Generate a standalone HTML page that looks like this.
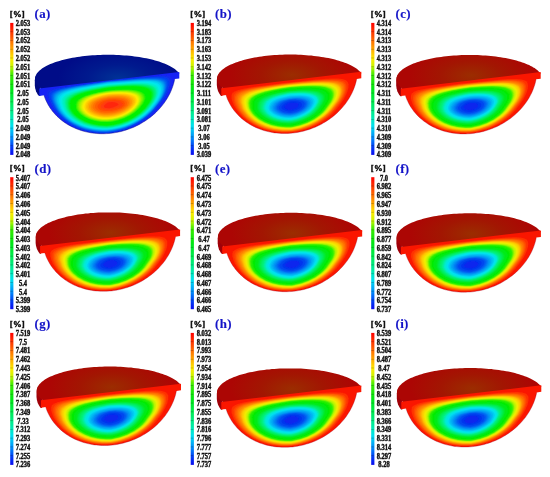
<!DOCTYPE html><html><head><meta charset="utf-8"><style>
html,body{margin:0;padding:0;background:#fff;}
body{width:550px;height:477px;overflow:hidden;position:relative;}
.p{position:absolute;left:0;top:0;width:180px;height:155px;}
.t{position:absolute;font-family:"Liberation Serif",serif;font-weight:bold;color:#111;white-space:nowrap;}
.pc{font-size:8.7px;letter-spacing:0.2px;transform-origin:0 0;-webkit-text-stroke:0.45px #111;}
.lt{font-size:12.9px;color:#1414c8;-webkit-text-stroke:0.15px #1414c8;letter-spacing:0.3px;}
.lb{font-size:7.2px;-webkit-text-stroke:0.4px #111;transform:scaleX(0.9);transform-origin:50% 50%;width:20px;text-align:center;line-height:9px;height:9px;}
svg{position:absolute;left:0;top:0;}
</style></head><body>
<svg width="550" height="477" viewBox="0 0 550 477"><defs>
<linearGradient id="cb" x1="0" y1="0" x2="0" y2="1"><stop offset="0.000" stop-color="#ff0000"/><stop offset="0.025" stop-color="#ff1300"/><stop offset="0.050" stop-color="#ff2700"/><stop offset="0.075" stop-color="#ff3a00"/><stop offset="0.100" stop-color="#ff4f00"/><stop offset="0.125" stop-color="#ff6500"/><stop offset="0.150" stop-color="#ff7b00"/><stop offset="0.175" stop-color="#ff9200"/><stop offset="0.200" stop-color="#ffa900"/><stop offset="0.225" stop-color="#ffc000"/><stop offset="0.250" stop-color="#ffd800"/><stop offset="0.275" stop-color="#faec00"/><stop offset="0.300" stop-color="#e4f000"/><stop offset="0.325" stop-color="#cdf400"/><stop offset="0.350" stop-color="#99f200"/><stop offset="0.375" stop-color="#5fee00"/><stop offset="0.400" stop-color="#37eb02"/><stop offset="0.425" stop-color="#29e906"/><stop offset="0.450" stop-color="#1be80b"/><stop offset="0.475" stop-color="#0ee70f"/><stop offset="0.500" stop-color="#00e614"/><stop offset="0.525" stop-color="#00e723"/><stop offset="0.550" stop-color="#00e832"/><stop offset="0.575" stop-color="#00ea41"/><stop offset="0.600" stop-color="#00eb50"/><stop offset="0.625" stop-color="#00eb64"/><stop offset="0.650" stop-color="#00eb78"/><stop offset="0.675" stop-color="#00eb8c"/><stop offset="0.700" stop-color="#00eba0"/><stop offset="0.725" stop-color="#00e8b9"/><stop offset="0.750" stop-color="#00e5d2"/><stop offset="0.775" stop-color="#00e2eb"/><stop offset="0.800" stop-color="#00cef2"/><stop offset="0.825" stop-color="#00b7f5"/><stop offset="0.850" stop-color="#009ff8"/><stop offset="0.875" stop-color="#0086fa"/><stop offset="0.900" stop-color="#006af8"/><stop offset="0.925" stop-color="#004df6"/><stop offset="0.950" stop-color="#0234f4"/><stop offset="0.975" stop-color="#061ff2"/><stop offset="1.000" stop-color="#0a0af0"/></linearGradient>
<filter id="blur" x="-5%" y="-5%" width="110%" height="110%"><feGaussianBlur stdDeviation="0.7"/></filter>
<radialGradient id="lid_red" gradientUnits="userSpaceOnUse" cx="112.0" cy="75.0" r="62" gradientTransform="translate(112.0 75.0) scale(1 0.45) translate(-112.0 -75.0)"><stop offset="0" stop-color="#9b2d00"/><stop offset="0.5" stop-color="#a21602"/><stop offset="1" stop-color="#ac0604"/></radialGradient>
<radialGradient id="lid_blue" gradientUnits="userSpaceOnUse" cx="120.0" cy="78.0" r="60" gradientTransform="translate(120.0 78.0) scale(1 0.45) translate(-120.0 -78.0)"><stop offset="0" stop-color="#003296"/><stop offset="0.5" stop-color="#001a8e"/><stop offset="1" stop-color="#000c88"/></radialGradient>
<g id="hemi_red"><path d="M38.5 74.0 L37.3 77.0 L36.8 80.0 L36.8 85.0 L37.2 88.0 L38.0 91.0 L39.6 94.0 L41.0 95.9 L42.3 95.9 L42.3 86.0Z" fill="#a00008"/>
<path d="M42.8 88.1 L41.8 87.3 L40.9 86.5 L40.1 85.6 L39.4 84.8 L38.8 83.9 L38.2 83.1 L37.8 82.2 L37.5 81.3 L37.2 80.4 L37.1 79.6 L37.0 78.7 L37.1 77.8 L37.2 76.9 L37.5 76.0 L37.8 75.2 L38.3 74.3 L38.8 73.4 L39.4 72.6 L40.2 71.7 L41.0 70.9 L41.9 70.0 L42.9 69.2 L44.0 68.4 L45.2 67.6 L46.5 66.8 L47.8 66.1 L49.2 65.3 L50.8 64.6 L52.4 63.9 L54.0 63.2 L55.8 62.6 L57.6 61.9 L59.5 61.3 L61.5 60.7 L63.5 60.1 L65.6 59.6 L67.7 59.0 L69.9 58.5 L72.2 58.1 L74.5 57.6 L76.8 57.2 L79.2 56.8 L81.7 56.5 L84.2 56.1 L86.7 55.8 L89.2 55.6 L91.8 55.3 L94.4 55.1 L97.0 55.0 L99.6 54.8 L102.3 54.7 L105.0 54.6 L107.6 54.6 L110.3 54.6 L113.0 54.6 L115.6 54.6 L118.3 54.7 L120.9 54.8 L123.6 55.0 L126.2 55.2 L128.8 55.4 L131.4 55.6 L133.9 55.9 L136.4 56.2 L138.9 56.5 L141.3 56.9 L143.7 57.3 L146.1 57.7 L148.4 58.1 L150.6 58.6 L152.8 59.1 L154.9 59.6 L157.0 60.2 L159.0 60.8 L161.0 61.4 L162.9 62.0 L164.7 62.7 L166.4 63.3 L168.1 64.0 L169.7 64.7 L171.2 65.5 L172.6 66.2 L173.9 67.0 L175.2 67.7 L176.4 68.5 L177.4 69.3 L178.4 70.2 L179.3 71.0 L180.1 71.8 L181.5 73.2 L41.5 89.8Z" fill="url(#lid_red)"/>
<clipPath id="sec_red"><path d="M41.3 88.3 L181.3 71.7 L181.3 78.3 L176.7 78.9 L176.3 80.9 L175.8 82.9 L175.2 84.9 L174.5 86.9 L173.8 88.9 L173.0 90.8 L172.1 92.8 L171.1 94.7 L170.1 96.6 L169.0 98.5 L167.8 100.3 L166.6 102.1 L165.3 103.9 L163.9 105.6 L162.5 107.3 L161.0 109.0 L159.5 110.6 L157.9 112.2 L156.3 113.7 L154.6 115.2 L152.8 116.7 L151.0 118.0 L149.1 119.4 L147.2 120.7 L145.3 121.9 L143.3 123.1 L141.3 124.2 L139.3 125.3 L137.2 126.3 L135.1 127.2 L132.9 128.1 L130.7 128.9 L128.5 129.7 L126.3 130.3 L124.1 131.0 L121.9 131.5 L119.6 132.0 L117.3 132.4 L115.0 132.8 L112.8 133.1 L110.5 133.3 L108.2 133.4 L105.9 133.5 L103.6 133.5 L101.3 133.5 L99.1 133.3 L96.8 133.1 L94.6 132.9 L92.4 132.5 L90.2 132.1 L88.0 131.6 L85.9 131.1 L83.8 130.5 L81.7 129.8 L79.7 129.1 L77.6 128.3 L75.7 127.4 L73.7 126.5 L71.8 125.5 L70.0 124.5 L68.2 123.3 L66.5 122.2 L64.8 121.0 L63.1 119.7 L61.5 118.4 L60.0 117.0 L58.5 115.5 L57.1 114.1 L55.8 112.5 L54.5 111.0 L53.3 109.4 L52.1 107.7 L51.0 106.0 L50.0 104.3 L49.1 102.5 L48.2 100.7 L47.4 98.9 L46.7 97.0 L46.0 95.1 L41.3 95.7Z"/></clipPath>
<g clip-path="url(#sec_red)"><g filter="url(#blur)">
<path d="M41.3 88.3 L181.3 71.7 L181.3 78.3 L176.7 78.9 L176.3 80.9 L175.8 82.9 L175.2 84.9 L174.5 86.9 L173.8 88.9 L173.0 90.8 L172.1 92.8 L171.1 94.7 L170.1 96.6 L169.0 98.5 L167.8 100.3 L166.6 102.1 L165.3 103.9 L163.9 105.6 L162.5 107.3 L161.0 109.0 L159.5 110.6 L157.9 112.2 L156.3 113.7 L154.6 115.2 L152.8 116.7 L151.0 118.0 L149.1 119.4 L147.2 120.7 L145.3 121.9 L143.3 123.1 L141.3 124.2 L139.3 125.3 L137.2 126.3 L135.1 127.2 L132.9 128.1 L130.7 128.9 L128.5 129.7 L126.3 130.3 L124.1 131.0 L121.9 131.5 L119.6 132.0 L117.3 132.4 L115.0 132.8 L112.8 133.1 L110.5 133.3 L108.2 133.4 L105.9 133.5 L103.6 133.5 L101.3 133.5 L99.1 133.3 L96.8 133.1 L94.6 132.9 L92.4 132.5 L90.2 132.1 L88.0 131.6 L85.9 131.1 L83.8 130.5 L81.7 129.8 L79.7 129.1 L77.6 128.3 L75.7 127.4 L73.7 126.5 L71.8 125.5 L70.0 124.5 L68.2 123.3 L66.5 122.2 L64.8 121.0 L63.1 119.7 L61.5 118.4 L60.0 117.0 L58.5 115.5 L57.1 114.1 L55.8 112.5 L54.5 111.0 L53.3 109.4 L52.1 107.7 L51.0 106.0 L50.0 104.3 L49.1 102.5 L48.2 100.7 L47.4 98.9 L46.7 97.0 L46.0 95.1 L41.3 95.7Z" fill="#fa1900" stroke="#fa1900" stroke-width="3"/>
<path d="M51.6 98.4 L51.6 95.4 L52.0 94.1 L52.6 93.1 L54.9 91.4 L58.6 89.9 L64.9 88.5 L73.4 87.0 L102.1 83.2 L137.6 79.5 L148.6 78.7 L156.6 78.6 L161.9 79.0 L165.4 80.0 L166.7 80.9 L167.6 81.9 L168.2 83.1 L168.5 84.6 L168.4 87.6 L167.5 91.1 L165.9 95.1 L163.8 99.1 L161.6 102.4 L155.9 109.9 L152.7 113.4 L148.8 116.9 L145.4 119.5 L140.9 122.5 L136.4 124.9 L131.9 127.0 L127.1 128.8 L122.1 130.2 L116.4 131.5 L111.1 132.3 L106.4 132.5 L100.4 132.3 L95.1 131.8 L90.6 131.0 L85.6 129.7 L81.4 128.3 L77.1 126.5 L73.1 124.4 L68.9 121.8 L65.1 118.9 L61.8 115.9 L58.8 112.6 L56.2 109.1 L54.0 105.4 L52.4 101.4Z" fill="#ff3200"/>
<path d="M53.6 99.6 L53.6 96.6 L53.9 95.4 L54.7 94.1 L55.6 93.1 L57.1 92.1 L60.9 90.5 L66.6 89.0 L74.6 87.5 L101.9 83.8 L133.6 80.5 L144.9 79.7 L154.1 79.6 L159.6 80.1 L163.4 81.2 L164.7 82.1 L165.6 83.1 L166.2 84.4 L166.6 85.9 L166.5 88.9 L165.7 92.1 L164.2 95.9 L162.2 99.6 L160.0 102.9 L154.7 109.6 L151.1 113.5 L147.4 116.9 L143.6 119.8 L139.9 122.3 L135.4 124.7 L130.9 126.8 L126.9 128.3 L121.9 129.8 L116.4 131.0 L111.9 131.7 L106.9 132.0 L101.9 131.9 L96.9 131.5 L91.9 130.7 L86.9 129.5 L82.9 128.2 L78.4 126.4 L74.1 124.3 L70.4 122.0 L66.5 119.1 L63.4 116.4 L60.4 113.1 L58.0 109.9 L55.9 106.4 L54.4 102.9Z" fill="#ff4600"/>
<path d="M55.0 100.4 L55.0 97.1 L55.4 95.9 L56.2 94.6 L58.6 92.6 L62.1 91.0 L67.6 89.5 L76.1 87.8 L100.9 84.2 L115.9 82.5 L132.6 81.0 L144.4 80.2 L152.9 80.2 L158.4 80.7 L162.1 81.9 L163.4 82.7 L164.4 83.9 L165.1 85.1 L165.4 86.6 L165.4 89.4 L164.7 92.6 L163.3 96.1 L161.2 99.9 L159.1 102.9 L153.9 109.6 L150.6 113.1 L146.9 116.5 L142.6 119.8 L139.1 122.1 L135.1 124.3 L130.9 126.3 L126.4 128.0 L121.6 129.4 L116.6 130.6 L112.1 131.3 L107.1 131.6 L102.1 131.6 L97.6 131.2 L92.6 130.4 L87.6 129.3 L83.6 128.0 L79.1 126.2 L75.1 124.3 L71.4 122.0 L67.8 119.4 L64.6 116.6 L61.8 113.6 L59.5 110.6 L57.6 107.4 L55.8 103.4Z" fill="#ff5a00"/>
<path d="M56.4 100.9 L56.3 99.1 L56.4 97.6 L56.8 96.4 L57.6 95.1 L59.9 93.1 L63.9 91.3 L69.4 89.7 L77.6 88.0 L88.6 86.2 L103.4 84.3 L116.9 82.7 L133.6 81.3 L144.4 80.7 L152.1 80.7 L157.4 81.3 L161.1 82.6 L162.6 83.6 L163.4 84.6 L164.0 85.9 L164.3 87.4 L164.3 90.1 L163.6 93.1 L162.2 96.6 L160.2 100.1 L153.3 109.4 L150.0 112.9 L146.4 116.2 L142.6 119.1 L138.6 121.7 L134.6 124.0 L130.4 126.0 L125.9 127.7 L121.6 129.0 L116.4 130.3 L111.9 131.0 L107.1 131.3 L102.1 131.2 L97.4 130.8 L92.6 130.0 L88.1 129.0 L84.1 127.8 L79.9 126.1 L75.9 124.1 L72.4 122.0 L68.7 119.4 L65.8 116.9 L63.0 113.9 L60.7 110.9 L59.0 107.9 L57.2 103.6Z" fill="#ff6e00"/>
<path d="M57.8 101.1 L57.7 99.4 L57.9 97.9 L58.4 96.5 L59.1 95.4 L60.4 94.2 L61.9 93.1 L65.9 91.4 L71.4 89.8 L79.9 88.1 L90.9 86.3 L106.1 84.2 L119.4 82.8 L133.1 81.7 L143.6 81.2 L151.1 81.4 L156.4 82.1 L159.9 83.3 L161.1 84.2 L162.2 85.4 L162.8 86.6 L163.2 88.1 L163.2 90.6 L162.5 93.6 L161.2 96.9 L159.3 100.4 L152.3 109.6 L149.0 113.1 L145.4 116.3 L141.6 119.2 L137.6 121.7 L133.6 123.9 L129.4 125.9 L125.1 127.6 L120.6 128.9 L115.9 130.0 L111.4 130.7 L106.9 130.9 L101.9 130.8 L97.4 130.4 L92.9 129.7 L88.6 128.7 L84.4 127.4 L80.6 125.9 L76.5 123.9 L72.9 121.6 L69.5 119.1 L66.4 116.4 L63.9 113.6 L61.7 110.6 L60.2 107.9 L58.5 103.6Z" fill="#ff8100"/>
<path d="M59.2 101.6 L59.1 99.9 L59.3 98.4 L59.9 96.9 L60.8 95.6 L63.6 93.4 L67.8 91.6 L74.1 89.8 L82.9 88.0 L94.1 86.2 L108.6 84.2 L122.1 82.9 L135.1 82.0 L144.1 81.8 L150.9 82.0 L155.6 82.8 L159.1 84.1 L160.4 85.1 L161.2 86.1 L161.8 87.4 L162.1 88.9 L162.1 91.4 L161.4 94.4 L160.1 97.6 L158.3 100.9 L151.6 109.6 L148.4 113.0 L144.9 116.1 L141.4 118.8 L137.4 121.4 L133.4 123.6 L129.1 125.5 L124.6 127.2 L119.9 128.7 L114.8 129.9 L111.1 130.4 L106.6 130.6 L102.1 130.5 L97.9 130.1 L93.3 129.4 L89.1 128.4 L84.9 127.0 L80.9 125.4 L77.1 123.5 L73.6 121.4 L70.3 118.9 L67.5 116.4 L65.0 113.6 L63.0 110.9 L61.4 108.1 L59.7 103.6Z" fill="#ff9400"/>
<path d="M60.4 102.1 L60.3 100.4 L60.5 98.9 L61.0 97.4 L61.9 96.1 L64.6 93.9 L68.6 92.1 L74.6 90.3 L83.1 88.4 L94.6 86.5 L108.6 84.6 L121.9 83.3 L134.1 82.5 L143.1 82.2 L149.9 82.5 L154.9 83.3 L158.2 84.6 L159.4 85.5 L160.3 86.6 L160.9 87.9 L161.3 89.4 L161.3 91.9 L160.7 94.6 L159.5 97.6 L157.6 100.9 L151.3 109.4 L148.1 112.7 L144.4 116.0 L140.9 118.6 L137.1 121.1 L133.1 123.3 L129.1 125.1 L120.4 128.2 L115.6 129.3 L111.1 130.1 L106.9 130.3 L102.4 130.2 L93.6 129.0 L89.4 128.0 L85.4 126.7 L81.4 125.1 L77.9 123.3 L74.4 121.2 L71.2 118.9 L68.4 116.4 L65.9 113.6 L64.0 111.1 L62.5 108.4Z" fill="#ffa900"/>
<path d="M61.4 102.4 L61.4 99.4 L61.9 97.9 L62.7 96.6 L65.3 94.4 L69.6 92.3 L75.6 90.5 L83.9 88.7 L94.9 86.8 L108.1 84.9 L120.9 83.7 L133.4 82.8 L142.1 82.6 L148.9 82.8 L153.9 83.6 L157.4 85.0 L158.6 85.9 L159.6 87.0 L160.2 88.1 L160.6 89.6 L160.6 92.1 L160.0 94.9 L158.7 97.9 L157.1 100.9 L150.3 109.9 L147.6 112.7 L144.0 115.9 L140.4 118.6 L136.8 120.9 L132.9 123.0 L128.6 125.0 L119.9 128.0 L115.1 129.1 L110.6 129.9 L101.6 129.8 L93.1 128.5 L89.1 127.5 L85.1 126.2 L81.4 124.6 L77.9 122.9 L74.7 120.9 L71.7 118.6 L68.9 116.1 L66.6 113.6 L64.8 111.1 L63.3 108.4Z" fill="#ffbd00"/>
<path d="M62.4 102.6 L62.4 99.6 L62.9 98.1 L63.7 96.9 L66.3 94.6 L70.6 92.5 L76.8 90.6 L84.9 88.8 L95.6 87.0 L108.4 85.2 L121.1 83.9 L133.7 83.1 L142.1 82.9 L148.4 83.2 L153.1 84.0 L156.6 85.4 L157.9 86.4 L158.8 87.4 L159.4 88.6 L159.8 90.1 L159.8 92.4 L159.2 95.1 L158.1 97.9 L156.4 100.9 L149.9 109.6 L146.9 112.9 L143.5 115.9 L136.4 120.7 L128.6 124.6 L124.4 126.3 L119.9 127.7 L115.1 128.8 L110.6 129.5 L101.9 129.4 L93.6 128.3 L85.9 126.1 L78.8 122.9 L75.5 120.9 L72.5 118.6 L69.7 116.1 L67.4 113.6 L65.6 111.1 L64.2 108.6 L63.4 106.6Z" fill="#fccf00"/>
<path d="M63.5 102.9 L63.6 99.9 L64.1 98.4 L64.9 97.1 L67.5 94.9 L71.6 92.9 L77.9 90.9 L85.9 89.1 L96.9 87.1 L109.6 85.3 L121.9 84.2 L133.1 83.5 L141.4 83.4 L147.9 83.8 L152.5 84.6 L155.6 85.9 L156.9 86.9 L157.7 87.9 L158.4 89.1 L158.8 90.6 L158.8 92.9 L158.2 95.6 L157.1 98.4 L155.4 101.4 L149.0 109.9 L145.9 113.1 L142.4 116.1 L139.0 118.6 L135.6 120.8 L127.7 124.6 L119.4 127.4 L110.6 129.2 L102.1 129.1 L93.8 127.9 L86.0 125.6 L79.1 122.4 L75.8 120.4 L72.9 118.2 L70.3 115.9 L68.1 113.4 L66.4 110.9 L65.2 108.6 L64.4 106.6Z" fill="#f7dd00"/>
<path d="M64.6 103.4 L64.4 101.6 L64.6 100.1 L65.2 98.6 L66.0 97.4 L68.7 95.1 L72.7 93.1 L78.6 91.2 L86.4 89.4 L95.9 87.6 L108.6 85.8 L120.6 84.6 L131.4 84.0 L140.1 83.8 L146.6 84.2 L151.4 85.1 L154.6 86.4 L155.9 87.3 L156.8 88.4 L157.5 89.6 L157.9 91.1 L157.9 93.4 L157.4 95.9 L156.3 98.6 L154.6 101.6 L148.4 109.9 L145.5 112.9 L142.1 115.9 L138.7 118.4 L135.1 120.6 L127.9 124.2 L119.4 127.1 L114.9 128.1 L110.6 128.8 L102.1 128.7 L94.4 127.6 L86.6 125.4 L79.9 122.3 L76.7 120.4 L74.0 118.4 L71.4 116.1 L69.1 113.6 L67.5 111.4 L66.1 108.9 L65.4 106.9Z" fill="#f2eb00"/>
<path d="M65.6 103.6 L65.7 100.6 L66.2 99.1 L67.0 97.9 L69.6 95.5 L73.9 93.4 L79.9 91.4 L87.5 89.6 L97.9 87.7 L110.1 85.9 L122.4 84.9 L132.4 84.4 L140.4 84.4 L146.4 84.8 L150.9 85.7 L154.0 87.1 L155.1 88.0 L156.0 89.1 L156.6 90.4 L157.0 91.9 L156.9 94.1 L156.4 96.6 L155.2 99.4 L153.6 102.1 L147.8 109.9 L144.9 112.9 L141.4 115.9 L134.6 120.4 L127.1 124.1 L119.1 126.7 L110.6 128.5 L102.4 128.3 L94.4 127.1 L87.1 125.1 L80.4 122.0 L77.3 120.1 L74.4 118.0 L71.9 115.7 L69.8 113.4 L68.1 110.9 L66.9 108.6 L66.2 106.6Z" fill="#e3f100"/>
<path d="M66.3 103.9 L66.4 100.9 L66.9 99.4 L67.7 98.1 L70.4 95.7 L74.6 93.6 L80.6 91.6 L88.1 89.8 L98.4 87.9 L110.4 86.1 L122.1 85.2 L131.9 84.7 L139.6 84.7 L145.6 85.1 L150.1 86.1 L153.4 87.5 L155.4 89.5 L156.0 90.6 L156.3 92.1 L156.3 94.1 L155.9 96.4 L154.9 98.9 L153.4 101.6 L147.3 109.9 L144.4 112.9 L141.1 115.7 L134.6 120.1 L127.1 123.8 L119.4 126.4 L110.6 128.2 L102.4 128.0 L94.6 126.9 L87.4 124.8 L80.9 121.9 L77.6 119.9 L74.9 117.9 L72.4 115.6 L70.4 113.4 L68.8 111.1 L67.6 108.9 L66.9 106.9Z" fill="#d0f300"/>
<path d="M67.5 106.4 L66.9 102.6 L67.5 99.9 L68.2 98.6 L69.3 97.4 L72.1 95.3 L76.5 93.4 L82.6 91.5 L90.6 89.7 L100.6 87.9 L110.6 86.4 L122.9 85.5 L133.9 85.0 L142.4 85.2 L147.4 85.9 L150.1 86.6 L151.8 87.4 L153.3 88.4 L154.3 89.4 L155.0 90.6 L155.5 92.1 L155.6 94.1 L155.2 96.4 L154.2 98.9 L152.9 101.4 L147.0 109.6 L144.4 112.4 L141.6 114.9 L135.3 119.4 L128.1 123.0 L120.4 125.8 L112.4 127.6 L110.4 127.9 L105.6 127.9 L97.6 127.1 L90.1 125.4 L83.6 122.9 L77.6 119.4 L72.8 115.4 L70.8 113.1 L69.3 110.9 L68.1 108.6Z" fill="#bef400"/>
<path d="M68.1 106.6 L67.6 102.9 L68.2 100.1 L68.9 98.9 L70.0 97.6 L72.9 95.5 L77.1 93.6 L83.4 91.7 L91.2 89.9 L100.9 88.1 L110.6 86.7 L121.9 85.8 L133.4 85.3 L141.9 85.6 L147.1 86.4 L151.1 87.8 L152.6 88.8 L153.6 89.9 L154.3 91.1 L154.7 92.6 L154.8 94.6 L154.4 96.6 L153.6 98.9 L152.3 101.4 L146.6 109.4 L144.1 112.1 L141.2 114.9 L134.9 119.3 L127.9 122.9 L120.1 125.6 L112.4 127.3 L110.4 127.6 L105.9 127.6 L97.9 126.9 L90.6 125.2 L83.9 122.6 L78.2 119.4 L73.4 115.4 L71.4 113.1 L69.9 110.9 L68.7 108.6Z" fill="#adf500"/>
<path d="M68.5 106.6 L68.0 102.9 L68.6 100.1 L69.3 98.9 L70.5 97.6 L73.4 95.6 L77.9 93.6 L84.1 91.7 L92.0 89.9 L101.9 88.1 L110.6 86.9 L123.4 85.9 L133.9 85.5 L141.6 85.8 L146.9 86.6 L150.9 88.1 L152.3 89.1 L153.2 90.1 L153.9 91.4 L154.3 92.9 L154.4 94.9 L153.9 97.1 L153.0 99.4 L151.7 101.9 L145.9 109.9 L143.3 112.6 L140.2 115.4 L134.4 119.4 L127.4 122.9 L120.1 125.5 L112.4 127.2 L110.4 127.5 L105.9 127.5 L97.9 126.7 L90.9 125.1 L84.4 122.6 L78.6 119.4 L75.9 117.4 L73.7 115.4 L71.7 113.1 L70.2 110.9 L69.1 108.6Z" fill="#98f400"/>
<path d="M68.8 106.9 L68.4 102.9 L68.9 100.4 L70.6 97.9 L73.3 95.9 L77.6 93.9 L83.4 92.0 L90.9 90.3 L100.1 88.6 L110.6 87.0 L121.1 86.2 L132.1 85.7 L140.6 86.0 L146.1 86.7 L150.1 88.1 L151.6 89.1 L152.7 90.1 L153.5 91.4 L153.9 92.9 L154.0 94.9 L153.6 96.9 L152.8 99.1 L151.5 101.6 L145.8 109.6 L143.3 112.4 L140.2 115.1 L134.5 119.1 L127.7 122.6 L120.4 125.2 L112.6 127.0 L110.4 127.3 L106.4 127.3 L98.4 126.6 L91.4 125.1 L84.8 122.6 L78.9 119.4 L74.1 115.5 L72.2 113.4 L70.6 111.1 L69.6 109.1Z" fill="#85f300"/>
<path d="M69.1 106.9 L68.7 102.9 L69.3 100.4 L70.0 99.1 L71.1 97.9 L73.9 95.9 L78.2 93.9 L83.7 92.1 L91.4 90.3 L100.9 88.6 L110.6 87.1 L121.4 86.3 L132.1 85.9 L140.4 86.2 L145.9 87.0 L149.9 88.4 L151.4 89.4 L152.4 90.4 L153.1 91.6 L153.6 93.1 L153.6 95.1 L153.2 97.1 L152.4 99.4 L151.1 101.9 L145.5 109.6 L143.0 112.4 L140.0 115.1 L134.6 118.9 L127.6 122.5 L120.3 125.1 L112.6 126.9 L110.4 127.2 L106.4 127.2 L98.4 126.5 L91.3 124.9 L84.9 122.5 L79.1 119.3 L74.3 115.4 L72.5 113.4 L70.9 111.1 L69.8 108.9Z" fill="#71f200"/>
<path d="M69.5 106.9 L69.1 102.9 L69.7 100.4 L71.4 98.0 L74.4 95.9 L78.8 93.9 L84.4 92.1 L91.9 90.4 L101.9 88.6 L110.6 87.3 L122.6 86.4 L132.6 86.1 L140.5 86.4 L145.9 87.2 L149.6 88.6 L151.1 89.6 L152.0 90.6 L152.8 91.9 L153.2 93.4 L153.2 95.4 L152.8 97.4 L152.0 99.6 L150.8 101.9 L145.3 109.6 L142.7 112.4 L139.7 115.1 L134.0 119.1 L127.4 122.4 L119.9 125.1 L112.4 126.8 L110.4 127.0 L105.9 127.0 L98.1 126.3 L91.1 124.7 L84.9 122.3 L79.2 119.1 L74.6 115.4 L72.8 113.4 L71.2 111.1 L70.1 108.9Z" fill="#5ef200"/>
<path d="M69.8 106.9 L69.4 102.9 L70.1 100.4 L71.9 98.0 L74.9 95.9 L79.4 93.9 L85.1 92.1 L92.7 90.4 L102.4 88.6 L110.6 87.4 L122.9 86.5 L132.6 86.2 L140.4 86.6 L145.6 87.4 L149.4 88.9 L150.8 89.9 L151.7 90.9 L152.4 92.1 L152.8 93.6 L152.9 95.6 L152.4 97.6 L151.6 99.9 L150.3 102.1 L145.0 109.6 L142.4 112.5 L139.4 115.1 L133.6 119.1 L127.2 122.4 L120.1 124.9 L112.4 126.6 L110.4 126.9 L105.9 126.9 L98.1 126.1 L91.4 124.6 L84.9 122.1 L79.2 118.9 L74.7 115.1 L72.9 113.1 L71.3 110.9 L70.4 108.9Z" fill="#4bf100"/>
<path d="M70.1 107.1 L69.8 103.1 L70.4 100.6 L72.1 98.2 L75.0 96.1 L79.3 94.1 L84.9 92.4 L92.2 90.6 L101.8 88.9 L110.6 87.6 L121.4 86.8 L131.9 86.4 L139.6 86.7 L145.1 87.6 L148.9 89.0 L150.2 89.9 L151.4 91.1 L152.1 92.4 L152.4 93.6 L152.5 95.4 L152.2 97.4 L151.4 99.6 L150.2 101.9 L144.7 109.6 L142.2 112.4 L139.4 114.9 L133.7 118.9 L127.4 122.1 L120.1 124.7 L112.6 126.4 L110.4 126.7 L106.4 126.8 L98.6 126.1 L91.6 124.5 L85.4 122.2 L79.9 119.1 L75.2 115.4 L73.4 113.4 L71.8 111.1 L70.8 109.1Z" fill="#33f000"/>
<path d="M70.6 107.1 L70.3 103.1 L70.8 100.9 L71.5 99.6 L72.6 98.4 L75.4 96.3 L79.6 94.4 L85.4 92.5 L92.9 90.7 L101.9 89.1 L110.6 87.8 L121.4 87.0 L131.4 86.7 L139.1 87.0 L144.4 87.8 L148.1 89.2 L149.6 90.1 L150.6 91.1 L151.4 92.4 L151.9 93.9 L151.9 95.6 L151.6 97.6 L150.9 99.6 L149.7 101.9 L144.5 109.4 L142.0 112.1 L139.1 114.7 L133.4 118.8 L126.9 122.1 L119.9 124.6 L112.6 126.2 L110.4 126.5 L106.6 126.5 L98.9 125.9 L92.1 124.4 L85.6 122.0 L80.0 118.9 L75.6 115.3 L73.8 113.4 L72.2 111.1 L71.2 109.1Z" fill="#25ef00"/>
<path d="M71.6 107.4 L71.3 103.4 L71.9 101.1 L73.6 98.7 L76.4 96.6 L80.7 94.6 L86.1 92.9 L93.3 91.1 L102.4 89.5 L110.6 88.2 L121.4 87.5 L130.9 87.2 L138.4 87.6 L143.6 88.5 L147.3 89.9 L148.6 90.8 L149.6 91.9 L150.4 93.1 L150.7 94.4 L150.8 96.1 L150.5 97.9 L149.8 99.9 L148.6 102.1 L143.7 109.4 L141.2 112.1 L138.4 114.6 L132.9 118.5 L126.8 121.6 L119.9 124.1 L112.6 125.8 L110.4 126.1 L106.6 126.1 L98.9 125.4 L92.2 123.9 L86.1 121.6 L80.7 118.6 L76.3 115.1 L73.3 111.4 L72.2 109.4Z" fill="#13ed00"/>
<path d="M72.5 107.4 L72.4 103.4 L73.0 101.1 L74.9 98.8 L77.9 96.7 L82.4 94.7 L88.1 92.9 L95.7 91.1 L104.2 89.6 L110.6 88.7 L122.6 87.9 L131.4 87.8 L138.1 88.2 L142.9 89.1 L146.4 90.6 L147.6 91.5 L148.6 92.6 L149.3 93.9 L149.6 95.1 L149.6 96.9 L149.3 98.6 L147.6 102.4 L142.6 109.6 L140.3 112.1 L137.5 114.6 L132.1 118.4 L125.9 121.5 L119.1 123.8 L112.1 125.4 L110.4 125.6 L106.1 125.6 L98.9 124.9 L92.6 123.5 L86.6 121.3 L81.3 118.4 L77.0 114.9 L74.0 111.1 L73.0 109.1Z" fill="#00eb02"/>
<path d="M74.1 107.6 L74.1 103.6 L74.6 101.6 L76.3 99.4 L79.0 97.4 L83.2 95.4 L88.5 93.6 L94.9 92.1 L103.4 90.5 L110.6 89.4 L120.1 88.8 L129.1 88.6 L136.1 89.0 L140.9 89.8 L144.4 91.2 L145.8 92.1 L146.7 93.1 L147.5 94.4 L147.8 95.6 L147.9 97.1 L147.6 98.9 L145.9 102.6 L141.2 109.6 L138.9 112.1 L136.4 114.4 L131.3 117.9 L125.4 120.9 L119.1 123.1 L112.6 124.5 L110.4 124.9 L106.9 124.9 L99.9 124.3 L93.6 123.0 L87.8 120.9 L82.6 118.1 L78.5 114.9 L75.7 111.4 L74.6 109.4Z" fill="#00eb13"/>
<path d="M76.7 108.1 L76.6 105.9 L76.9 103.6 L77.4 102.1 L78.9 100.0 L81.4 98.1 L85.4 96.1 L90.4 94.4 L96.4 92.9 L104.1 91.4 L110.6 90.4 L119.6 89.9 L127.6 89.8 L134.1 90.3 L138.5 91.1 L141.9 92.5 L144.1 94.3 L144.8 95.4 L145.2 96.6 L145.3 98.1 L145.0 99.6 L143.5 103.1 L139.4 109.1 L137.4 111.4 L134.6 113.9 L130.0 117.1 L124.6 119.9 L118.6 122.0 L112.4 123.4 L110.4 123.7 L107.4 123.7 L100.6 123.2 L94.9 122.0 L89.5 120.1 L84.7 117.6 L80.8 114.6 L78.1 111.4 L77.2 109.6Z" fill="#00eb25"/>
<path d="M77.8 108.4 L77.7 106.1 L78.1 103.6 L78.5 102.4 L79.9 100.4 L82.4 98.4 L85.8 96.6 L90.7 94.9 L96.4 93.4 L103.9 91.9 L110.6 90.9 L118.9 90.4 L126.9 90.3 L133.1 90.7 L137.6 91.6 L140.9 92.9 L143.1 94.8 L143.8 95.9 L144.1 97.1 L144.0 99.9 L142.6 103.1 L138.8 108.9 L136.8 111.1 L134.3 113.4 L129.6 116.7 L124.4 119.4 L118.6 121.5 L112.4 123.0 L110.4 123.2 L107.6 123.3 L101.1 122.8 L95.5 121.6 L90.4 119.9 L85.6 117.5 L81.9 114.6 L79.3 111.6 L78.3 109.9Z" fill="#00ec39"/>
<path d="M78.8 108.4 L78.7 106.1 L79.5 102.6 L80.9 100.6 L83.4 98.6 L86.8 96.9 L91.6 95.1 L97.6 93.5 L104.8 92.1 L110.6 91.3 L119.1 90.8 L126.4 90.7 L132.4 91.2 L136.9 92.1 L140.0 93.4 L142.1 95.1 L142.7 96.1 L143.1 97.4 L143.0 100.1 L141.6 103.4 L137.8 109.1 L135.7 111.4 L133.4 113.4 L129.1 116.4 L123.7 119.1 L118.2 121.1 L112.1 122.5 L110.4 122.8 L107.4 122.8 L101.1 122.3 L95.6 121.1 L90.6 119.4 L86.2 117.1 L82.6 114.4 L80.1 111.4Z" fill="#00ed4c"/>
<path d="M79.8 108.4 L79.8 106.1 L80.6 102.6 L82.1 100.6 L84.6 98.7 L88.3 96.9 L93.3 95.1 L99.3 93.6 L105.8 92.4 L110.6 91.7 L119.6 91.2 L126.4 91.2 L132.1 91.7 L136.3 92.6 L139.2 93.9 L141.2 95.6 L141.8 96.6 L142.2 97.9 L142.0 100.4 L140.7 103.4 L137.2 108.9 L135.1 111.1 L132.9 113.1 L128.1 116.4 L123.1 118.9 L117.4 120.9 L111.9 122.1 L107.4 122.3 L101.4 121.8 L95.9 120.7 L91.1 119.0 L86.9 116.8 L83.4 114.1 L81.1 111.4Z" fill="#00ee5e"/>
<path d="M80.9 108.6 L80.8 106.4 L81.7 102.9 L83.2 100.9 L85.4 99.1 L88.7 97.4 L93.5 95.6 L99.2 94.1 L105.4 92.9 L110.6 92.1 L118.6 91.6 L125.6 91.7 L131.1 92.2 L135.4 93.1 L138.2 94.4 L140.2 96.1 L141.1 98.1 L141.0 100.6 L139.8 103.4 L136.4 108.8 L134.5 110.9 L132.3 112.9 L127.9 115.9 L123.0 118.4 L117.4 120.4 L111.9 121.6 L107.6 121.9 L101.9 121.4 L96.6 120.3 L91.9 118.7 L87.8 116.6 L84.5 114.1 L82.1 111.4Z" fill="#00ef71"/>
<path d="M82.0 108.6 L82.0 106.4 L82.9 103.1 L84.3 101.1 L86.5 99.4 L89.9 97.6 L94.6 95.9 L100.3 94.4 L106.4 93.2 L110.6 92.5 L119.1 92.1 L125.4 92.2 L130.6 92.7 L134.5 93.6 L137.2 94.9 L139.2 96.6 L140.0 98.6 L140.0 100.1 L139.6 101.9 L136.8 106.9 L134.5 109.9 L131.3 112.9 L127.3 115.6 L122.4 118.1 L117.2 119.9 L111.8 121.1 L107.9 121.3 L102.1 120.9 L97.3 119.9 L92.6 118.3 L88.8 116.4 L85.4 113.9 L83.2 111.4Z" fill="#00f081"/>
<path d="M82.9 108.6 L82.9 106.4 L83.8 103.1 L85.1 101.4 L87.2 99.6 L90.5 97.9 L94.9 96.3 L100.1 94.8 L106.4 93.5 L110.6 92.9 L118.6 92.5 L124.9 92.6 L130.0 93.1 L133.6 94.0 L136.4 95.2 L138.3 96.9 L139.1 98.9 L139.2 100.4 L138.7 102.1 L136.3 106.6 L134.0 109.6 L130.8 112.6 L126.8 115.4 L122.3 117.6 L117.1 119.5 L111.6 120.7 L107.4 120.9 L101.9 120.4 L97.2 119.4 L92.9 117.9 L89.0 115.9 L86.0 113.6 L83.9 111.1Z" fill="#00ef97"/>
<path d="M83.6 108.6 L83.6 106.4 L84.6 103.1 L85.9 101.4 L88.2 99.6 L91.6 97.9 L96.1 96.2 L101.3 94.9 L107.6 93.6 L111.4 93.1 L119.6 92.8 L125.4 93.0 L130.1 93.6 L133.6 94.5 L136.1 95.8 L137.8 97.4 L138.6 99.4 L138.6 100.9 L138.2 102.4 L136.0 106.4 L133.2 109.9 L130.1 112.7 L126.1 115.4 L121.4 117.6 L116.4 119.3 L111.4 120.4 L107.4 120.6 L102.1 120.1 L97.6 119.1 L93.3 117.6 L89.9 115.9 L86.8 113.6 L84.7 111.1Z" fill="#00edaa"/>
<path d="M84.4 108.6 L84.3 106.4 L85.3 103.4 L86.6 101.6 L88.8 99.9 L92.1 98.1 L96.1 96.6 L101.1 95.3 L106.9 94.1 L110.6 93.5 L118.1 93.1 L123.9 93.3 L128.9 93.8 L132.4 94.6 L135.3 95.9 L137.0 97.4 L138.0 99.4 L138.0 100.9 L137.7 102.4 L135.6 106.4 L133.1 109.4 L129.5 112.6 L125.7 115.1 L121.1 117.3 L116.6 118.9 L111.4 120.1 L107.4 120.2 L102.4 119.7 L97.9 118.8 L93.8 117.4 L90.4 115.6 L87.3 113.4 L85.4 111.1Z" fill="#00ecbe"/>
<path d="M85.1 108.6 L85.1 106.4 L86.2 103.4 L87.5 101.6 L89.4 100.1 L92.6 98.4 L96.6 96.9 L101.4 95.6 L107.1 94.4 L110.6 93.8 L118.1 93.5 L123.9 93.6 L128.7 94.1 L132.1 94.9 L134.8 96.1 L136.5 97.6 L137.4 99.6 L137.5 101.1 L137.1 102.6 L135.3 106.1 L132.9 109.1 L129.8 111.9 L125.8 114.6 L121.4 116.8 L116.4 118.6 L111.4 119.7 L107.6 119.8 L102.6 119.4 L98.1 118.4 L94.4 117.1 L90.9 115.4 L88.2 113.4 L86.3 111.1Z" fill="#00ebd2"/>
<path d="M86.1 108.6 L86.0 106.6 L87.1 103.6 L88.4 101.9 L90.5 100.1 L93.4 98.6 L97.4 97.1 L102.4 95.7 L107.9 94.6 L111.6 94.1 L119.1 93.8 L124.4 94.0 L128.6 94.6 L131.9 95.4 L134.4 96.6 L136.0 98.1 L136.8 99.9 L136.8 101.1 L136.5 102.6 L134.7 106.1 L132.6 108.9 L129.5 111.6 L125.6 114.2 L121.1 116.4 L116.4 118.1 L111.4 119.3 L107.9 119.4 L103.1 119.0 L99.0 118.1 L95.2 116.9 L91.8 115.1 L89.0 113.1 L87.1 110.9Z" fill="#00e6e1"/>
<path d="M87.5 108.6 L87.4 106.6 L88.5 103.9 L89.8 102.1 L91.7 100.6 L94.9 99.0 L98.9 97.5 L103.4 96.1 L108.3 95.1 L112.5 94.6 L119.1 94.4 L124.5 94.6 L128.0 95.1 L131.1 96.0 L133.5 97.1 L135.1 98.6 L135.8 100.4 L135.6 102.9 L133.9 106.1 L131.9 108.7 L128.9 111.3 L125.1 113.7 L120.9 115.8 L115.9 117.6 L111.3 118.6 L108.1 118.7 L103.9 118.3 L99.6 117.4 L95.8 116.1 L92.6 114.5 L90.1 112.7 L88.4 110.6Z" fill="#00e1f1"/>
<path d="M88.6 108.4 L88.8 106.4 L90.1 103.6 L91.4 102.1 L93.5 100.6 L96.6 99.1 L100.4 97.8 L104.9 96.7 L110.4 95.6 L116.1 95.2 L120.5 95.1 L124.4 95.4 L127.9 95.9 L130.6 96.8 L132.6 97.9 L134.1 99.4 L134.6 100.9 L134.6 102.1 L134.3 103.4 L132.7 106.6 L130.9 108.9 L128.1 111.2 L124.6 113.4 L120.3 115.4 L115.8 116.9 L110.6 118.1 L106.6 117.9 L102.9 117.4 L99.4 116.5 L96.1 115.4 L93.2 113.9 L90.9 112.1 L89.5 110.4Z" fill="#00cdf3"/>
<path d="M90.0 108.6 L90.1 106.6 L91.3 104.1 L92.6 102.6 L94.4 101.3 L97.1 99.8 L100.6 98.5 L104.6 97.5 L109.1 96.6 L113.4 96.1 L118.4 95.9 L122.6 96.1 L126.1 96.6 L128.9 97.3 L131.0 98.4 L132.4 99.6 L133.1 101.4 L132.9 103.6 L131.5 106.6 L129.7 108.9 L127.1 111.1 L124.0 113.1 L120.2 114.9 L116.1 116.2 L111.6 117.2 L108.9 117.3 L104.4 116.9 L100.6 116.2 L97.4 115.1 L94.4 113.7 L92.2 112.1 L90.7 110.4Z" fill="#00baf3"/>
<path d="M91.4 108.6 L91.4 107.1 L91.9 105.8 L93.5 103.4 L95.4 101.8 L97.9 100.5 L100.9 99.3 L104.6 98.2 L108.9 97.4 L113.1 96.9 L117.6 96.7 L121.6 96.8 L124.9 97.3 L127.6 98.0 L129.6 99.0 L131.0 100.4 L131.6 101.9 L131.5 103.9 L130.4 106.4 L128.6 108.6 L126.4 110.6 L123.4 112.6 L120.1 114.1 L116.4 115.4 L112.2 116.4 L110.1 116.6 L105.6 116.4 L101.6 115.7 L98.6 114.8 L95.9 113.5 L93.6 111.9 L92.2 110.4Z" fill="#00a7f4"/>
<path d="M92.9 108.6 L92.8 107.1 L93.3 105.9 L94.9 103.6 L96.6 102.2 L98.9 101.0 L101.6 99.9 L108.9 98.1 L112.6 97.7 L116.9 97.5 L120.6 97.6 L123.9 98.0 L126.4 98.7 L128.2 99.6 L129.5 100.9 L130.1 102.4 L130.0 104.1 L128.9 106.6 L127.3 108.6 L125.3 110.4 L122.5 112.1 L119.4 113.6 L115.9 114.8 L112.1 115.6 L110.1 115.9 L105.9 115.6 L102.4 115.0 L99.6 114.2 L97.2 113.1 L95.1 111.8 L93.6 110.2Z" fill="#0094f5"/>
<path d="M94.3 108.4 L94.3 107.1 L94.8 105.9 L96.5 103.6 L98.0 102.4 L100.3 101.1 L102.9 100.2 L109.1 98.7 L116.6 98.1 L120.1 98.3 L122.9 98.7 L125.1 99.3 L127.1 100.4 L128.2 101.6 L128.6 102.9 L128.5 104.4 L127.5 106.6 L125.9 108.6 L123.9 110.3 L121.3 111.9 L118.5 113.1 L115.4 114.2 L111.9 114.9 L109.9 115.1 L106.1 114.9 L103.1 114.4 L100.4 113.6 L97.9 112.4 L96.1 111.2 L94.9 109.9Z" fill="#0080f4"/>
<path d="M95.7 108.4 L95.7 107.1 L96.1 106.1 L97.7 103.9 L99.2 102.6 L100.9 101.6 L103.4 100.6 L109.1 99.2 L115.6 98.6 L118.9 98.7 L121.7 99.1 L124.1 99.8 L125.7 100.6 L126.8 101.6 L127.4 102.9 L127.3 104.4 L126.5 106.4 L125.2 108.1 L123.5 109.6 L121.1 111.1 L118.4 112.4 L115.4 113.5 L110.4 114.4 L107.1 114.3 L104.1 113.8 L101.5 113.1 L99.4 112.2 L97.6 111.1 L96.4 109.8Z" fill="#006df2"/>
<path d="M97.0 108.1 L97.0 107.1 L97.4 106.1 L99.1 103.9 L100.3 102.9 L102.1 101.9 L104.4 100.9 L109.5 99.6 L115.6 99.2 L120.9 99.7 L122.6 100.1 L124.4 100.9 L125.5 101.9 L126.1 103.1 L126.1 104.4 L125.3 106.4 L124.2 107.9 L122.5 109.4 L120.4 110.7 L117.9 111.9 L114.9 112.9 L110.4 113.7 L107.4 113.6 L104.6 113.2 L102.1 112.5 L100.2 111.6 L98.6 110.5 L97.6 109.4Z" fill="#005af1"/>
<path d="M98.6 108.1 L98.6 107.1 L98.9 106.4 L101.0 103.9 L102.2 102.9 L105.4 101.4 L110.1 100.1 L115.6 99.8 L120.3 100.4 L121.9 100.9 L123.3 101.6 L124.2 102.6 L124.6 103.6 L124.5 104.6 L123.9 106.4 L122.7 107.9 L121.2 109.1 L119.2 110.4 L116.9 111.4 L112.1 112.7 L110.4 112.9 L108.1 112.8 L103.3 111.9 L101.6 111.1 L100.1 110.2 L99.1 109.1Z" fill="#0046ef"/>
<path d="M101.6 107.9 L101.6 106.9 L102.0 106.1 L104.6 103.6 L107.1 102.2 L110.4 101.3 L114.6 101.0 L118.4 101.5 L120.9 102.6 L121.6 103.4 L121.9 104.1 L121.8 105.4 L121.4 106.4 L119.5 108.4 L116.3 110.1 L112.1 111.3 L109.1 111.5 L105.4 110.8 L102.9 109.6 L102.1 108.9Z" fill="#0034ee"/>
<path d="M104.5 107.4 L104.5 106.4 L105.4 105.4 L107.6 103.8 L110.4 102.7 L113.4 102.5 L115.9 102.8 L117.8 103.6 L118.5 104.6 L118.4 106.1 L117.1 107.6 L114.9 108.8 L112.1 109.6 L110.4 109.9 L107.4 109.4 L105.4 108.5Z" fill="#0d25ee"/>
</g></g>
<path d="M176.7 78.9 L176.3 80.7 L175.9 82.4 L175.4 84.2 L174.8 86.0 L174.2 87.8 L173.5 89.5 L172.8 91.2 L172.0 93.0 L171.1 94.7 L170.2 96.4 L169.3 98.0 L168.2 99.7 L167.2 101.3 L166.1 102.9 L164.9 104.4 L163.7 106.0 L162.4 107.5 L161.1 108.9 L159.7 110.4 L158.3 111.8 L156.9 113.2 L155.4 114.5 L153.8 115.8 L152.3 117.1 L150.6 118.3 L149.0 119.5 L147.3 120.6 L145.6 121.7 L143.8 122.8 L142.1 123.8 L140.3 124.8 L138.4 125.7 L136.6 126.6 L134.7 127.4 L132.8 128.1 L130.8 128.9 L128.9 129.5 L126.9 130.2 L125.0 130.7 L123.0 131.3 L121.0 131.7 L119.0 132.1 L116.9 132.5 L114.9 132.8 L112.9 133.1 L110.8 133.3 L108.8 133.4 L106.8 133.5 L104.8 133.5 L102.7 133.5 L100.7 133.4 L98.7 133.3 L96.7 133.1 L94.8 132.9 L92.8 132.6 L90.8 132.2 L88.9 131.8 L87.0 131.4 L85.1 130.9 L83.2 130.3 L81.4 129.7 L79.6 129.1 L77.8 128.3 L76.0 127.6 L74.3 126.8 L72.6 125.9 L71.0 125.0 L69.4 124.1 L67.8 123.1 L66.2 122.0 L64.7 120.9 L63.3 119.8 L61.9 118.6 L60.5 117.4 L59.2 116.2 L57.9 114.9 L56.6 113.5 L55.5 112.2 L54.3 110.8 L53.3 109.3 L52.2 107.9 L51.3 106.4 L50.3 104.8 L49.5 103.3 L48.7 101.7 L47.9 100.1 L47.2 98.5 L46.6 96.8 L46.0 95.1" fill="none" stroke="rgba(150,0,40,0.4)" stroke-width="0.8"/></g>
<g id="hemi_blue"><path d="M38.5 74.0 L37.3 77.0 L36.8 80.0 L36.8 85.0 L37.2 88.0 L38.0 91.0 L39.6 94.0 L41.0 95.9 L42.3 95.9 L42.3 86.0Z" fill="#000a80"/>
<path d="M42.8 88.1 L41.8 87.3 L40.9 86.5 L40.1 85.6 L39.4 84.8 L38.8 83.9 L38.2 83.1 L37.8 82.2 L37.5 81.3 L37.2 80.4 L37.1 79.6 L37.0 78.7 L37.1 77.8 L37.2 76.9 L37.5 76.0 L37.8 75.2 L38.3 74.3 L38.8 73.4 L39.4 72.6 L40.2 71.7 L41.0 70.9 L41.9 70.0 L42.9 69.2 L44.0 68.4 L45.2 67.6 L46.5 66.8 L47.8 66.1 L49.2 65.3 L50.8 64.6 L52.4 63.9 L54.0 63.2 L55.8 62.6 L57.6 61.9 L59.5 61.3 L61.5 60.7 L63.5 60.1 L65.6 59.6 L67.7 59.0 L69.9 58.5 L72.2 58.1 L74.5 57.6 L76.8 57.2 L79.2 56.8 L81.7 56.5 L84.2 56.1 L86.7 55.8 L89.2 55.6 L91.8 55.3 L94.4 55.1 L97.0 55.0 L99.6 54.8 L102.3 54.7 L105.0 54.6 L107.6 54.6 L110.3 54.6 L113.0 54.6 L115.6 54.6 L118.3 54.7 L120.9 54.8 L123.6 55.0 L126.2 55.2 L128.8 55.4 L131.4 55.6 L133.9 55.9 L136.4 56.2 L138.9 56.5 L141.3 56.9 L143.7 57.3 L146.1 57.7 L148.4 58.1 L150.6 58.6 L152.8 59.1 L154.9 59.6 L157.0 60.2 L159.0 60.8 L161.0 61.4 L162.9 62.0 L164.7 62.7 L166.4 63.3 L168.1 64.0 L169.7 64.7 L171.2 65.5 L172.6 66.2 L173.9 67.0 L175.2 67.7 L176.4 68.5 L177.4 69.3 L178.4 70.2 L179.3 71.0 L180.1 71.8 L181.5 73.2 L41.5 89.8Z" fill="url(#lid_blue)"/>
<clipPath id="sec_blue"><path d="M41.3 88.3 L181.3 71.7 L181.3 78.3 L176.7 78.9 L176.3 80.9 L175.8 82.9 L175.2 84.9 L174.5 86.9 L173.8 88.9 L173.0 90.8 L172.1 92.8 L171.1 94.7 L170.1 96.6 L169.0 98.5 L167.8 100.3 L166.6 102.1 L165.3 103.9 L163.9 105.6 L162.5 107.3 L161.0 109.0 L159.5 110.6 L157.9 112.2 L156.3 113.7 L154.6 115.2 L152.8 116.7 L151.0 118.0 L149.1 119.4 L147.2 120.7 L145.3 121.9 L143.3 123.1 L141.3 124.2 L139.3 125.3 L137.2 126.3 L135.1 127.2 L132.9 128.1 L130.7 128.9 L128.5 129.7 L126.3 130.3 L124.1 131.0 L121.9 131.5 L119.6 132.0 L117.3 132.4 L115.0 132.8 L112.8 133.1 L110.5 133.3 L108.2 133.4 L105.9 133.5 L103.6 133.5 L101.3 133.5 L99.1 133.3 L96.8 133.1 L94.6 132.9 L92.4 132.5 L90.2 132.1 L88.0 131.6 L85.9 131.1 L83.8 130.5 L81.7 129.8 L79.7 129.1 L77.6 128.3 L75.7 127.4 L73.7 126.5 L71.8 125.5 L70.0 124.5 L68.2 123.3 L66.5 122.2 L64.8 121.0 L63.1 119.7 L61.5 118.4 L60.0 117.0 L58.5 115.5 L57.1 114.1 L55.8 112.5 L54.5 111.0 L53.3 109.4 L52.1 107.7 L51.0 106.0 L50.0 104.3 L49.1 102.5 L48.2 100.7 L47.4 98.9 L46.7 97.0 L46.0 95.1 L41.3 95.7Z"/></clipPath>
<g clip-path="url(#sec_blue)"><g filter="url(#blur)">
<path d="M41.3 88.3 L181.3 71.7 L181.3 78.3 L176.7 78.9 L176.3 80.9 L175.8 82.9 L175.2 84.9 L174.5 86.9 L173.8 88.9 L173.0 90.8 L172.1 92.8 L171.1 94.7 L170.1 96.6 L169.0 98.5 L167.8 100.3 L166.6 102.1 L165.3 103.9 L163.9 105.6 L162.5 107.3 L161.0 109.0 L159.5 110.6 L157.9 112.2 L156.3 113.7 L154.6 115.2 L152.8 116.7 L151.0 118.0 L149.1 119.4 L147.2 120.7 L145.3 121.9 L143.3 123.1 L141.3 124.2 L139.3 125.3 L137.2 126.3 L135.1 127.2 L132.9 128.1 L130.7 128.9 L128.5 129.7 L126.3 130.3 L124.1 131.0 L121.9 131.5 L119.6 132.0 L117.3 132.4 L115.0 132.8 L112.8 133.1 L110.5 133.3 L108.2 133.4 L105.9 133.5 L103.6 133.5 L101.3 133.5 L99.1 133.3 L96.8 133.1 L94.6 132.9 L92.4 132.5 L90.2 132.1 L88.0 131.6 L85.9 131.1 L83.8 130.5 L81.7 129.8 L79.7 129.1 L77.6 128.3 L75.7 127.4 L73.7 126.5 L71.8 125.5 L70.0 124.5 L68.2 123.3 L66.5 122.2 L64.8 121.0 L63.1 119.7 L61.5 118.4 L60.0 117.0 L58.5 115.5 L57.1 114.1 L55.8 112.5 L54.5 111.0 L53.3 109.4 L52.1 107.7 L51.0 106.0 L50.0 104.3 L49.1 102.5 L48.2 100.7 L47.4 98.9 L46.7 97.0 L46.0 95.1 L41.3 95.7Z" fill="#1423f5" stroke="#1423f5" stroke-width="3"/>
<path d="M48.9 94.1 L49.0 92.1 L49.4 91.4 L50.4 90.5 L53.1 89.2 L57.4 88.0 L74.4 85.2 L110.4 80.4 L146.6 76.6 L163.6 75.3 L168.1 75.4 L171.1 75.9 L172.8 76.9 L173.3 77.6 L173.5 78.6 L173.4 82.1 L172.3 86.6 L170.5 91.4 L168.3 95.9 L165.0 100.9 L159.6 107.9 L156.0 111.9 L152.3 115.4 L147.3 119.4 L143.6 121.8 L138.6 124.7 L133.6 127.1 L128.4 129.1 L122.6 130.9 L116.9 132.1 L111.6 132.9 L106.4 133.1 L100.6 133.0 L94.9 132.4 L90.4 131.6 L85.4 130.3 L79.9 128.4 L74.9 126.1 L71.1 124.0 L66.6 120.9 L63.2 118.1 L60.0 114.9 L57.1 111.4 L54.6 107.6 L51.3 101.6 L49.8 97.9Z" fill="#122cec"/>
<path d="M50.7 96.1 L50.7 93.6 L51.0 92.6 L51.8 91.6 L54.1 90.1 L58.5 88.6 L64.9 87.3 L74.5 85.6 L110.3 80.6 L145.9 77.1 L161.9 76.2 L166.4 76.4 L169.4 77.0 L170.4 77.6 L171.2 78.4 L172.0 80.4 L171.9 83.6 L171.0 87.6 L169.3 91.9 L167.0 96.4 L163.9 101.1 L158.4 108.1 L155.0 111.9 L151.4 115.3 L147.0 118.9 L142.9 121.6 L138.2 124.4 L133.6 126.6 L129.2 128.4 L123.8 130.1 L116.9 131.8 L109.9 132.7 L102.1 132.7 L95.9 132.1 L91.4 131.4 L86.3 130.1 L81.8 128.6 L77.4 126.8 L72.9 124.4 L68.9 121.8 L65.1 118.9 L61.6 115.6 L58.8 112.4 L56.0 108.4 L53.0 102.9 L51.5 99.4Z" fill="#0a38ee"/>
<path d="M52.1 97.1 L52.1 94.2 L52.6 93.1 L53.3 92.1 L55.9 90.5 L60.1 89.0 L66.6 87.5 L76.6 85.7 L110.4 80.8 L144.6 77.6 L154.1 77.0 L160.6 76.9 L165.1 77.2 L168.1 78.1 L169.1 78.7 L169.9 79.6 L170.7 81.9 L170.6 84.9 L169.6 88.9 L168.0 92.9 L165.7 97.1 L162.6 101.6 L157.0 108.6 L153.8 112.1 L150.1 115.6 L146.1 118.8 L142.0 121.6 L137.6 124.1 L132.9 126.4 L128.0 128.4 L122.4 130.1 L116.6 131.4 L112.2 132.1 L106.9 132.4 L101.6 132.3 L95.6 131.7 L91.0 130.9 L86.2 129.6 L81.8 128.1 L77.6 126.3 L73.4 124.1 L69.6 121.6 L65.9 118.8 L62.6 115.7 L59.7 112.4 L56.9 108.4 L54.1 103.1 L52.8 99.9Z" fill="#0244f0"/>
<path d="M53.4 98.1 L53.4 95.1 L53.9 93.9 L54.6 92.9 L57.1 91.0 L61.4 89.4 L67.4 87.9 L76.9 86.1 L110.4 81.1 L143.4 78.2 L152.7 77.6 L158.9 77.6 L163.6 78.0 L166.6 79.0 L167.6 79.7 L168.5 80.6 L169.3 82.9 L169.2 85.9 L168.4 89.4 L166.8 93.4 L164.4 97.9 L161.6 102.1 L157.0 107.9 L153.6 111.6 L149.6 115.3 L145.6 118.4 L141.3 121.4 L136.9 123.9 L132.3 126.1 L127.6 128.0 L122.5 129.6 L116.6 131.0 L112.1 131.7 L107.1 132.0 L101.9 131.9 L96.6 131.4 L92.1 130.6 L87.4 129.5 L83.1 128.1 L78.6 126.2 L74.4 124.0 L70.6 121.6 L66.9 118.8 L63.7 115.9 L60.8 112.6 L58.6 109.6 L56.8 106.6 L54.4 101.6Z" fill="#0057f0"/>
<path d="M54.4 98.6 L54.5 95.6 L55.0 94.4 L55.9 93.1 L58.4 91.3 L62.7 89.6 L69.1 88.0 L78.7 86.1 L110.4 81.3 L141.9 78.6 L151.1 78.2 L157.6 78.2 L162.1 78.7 L165.4 79.7 L166.4 80.4 L167.3 81.4 L167.9 82.5 L168.2 83.9 L168.2 86.6 L167.3 90.6 L165.7 94.6 L163.5 98.6 L160.8 102.6 L156.4 108.1 L152.9 111.9 L149.1 115.2 L145.1 118.3 L141.1 121.0 L136.6 123.6 L131.8 125.9 L127.1 127.7 L121.9 129.4 L116.5 130.6 L111.9 131.4 L107.1 131.6 L101.9 131.5 L96.6 131.0 L91.9 130.1 L87.4 129.0 L83.1 127.6 L78.9 125.8 L74.6 123.6 L70.9 121.3 L67.4 118.6 L64.4 115.9 L61.5 112.6 L59.3 109.6 L57.5 106.6 L55.3 101.9Z" fill="#006bf0"/>
<path d="M55.4 99.1 L55.5 96.1 L55.9 94.9 L56.8 93.6 L59.5 91.6 L63.9 89.9 L70.4 88.2 L79.4 86.4 L94.3 83.9 L110.4 81.5 L140.6 79.1 L150.1 78.7 L156.6 78.8 L161.1 79.3 L164.6 80.5 L165.8 81.4 L166.6 82.4 L167.4 84.9 L167.4 87.6 L166.6 91.1 L165.1 94.9 L162.9 98.9 L160.2 102.9 L156.0 108.1 L152.6 111.7 L148.9 115.1 L145.1 118.0 L140.6 120.9 L136.4 123.3 L132.1 125.3 L127.1 127.3 L122.1 128.8 L116.8 130.1 L111.9 130.9 L107.4 131.2 L102.1 131.1 L97.3 130.6 L92.6 129.8 L87.9 128.7 L83.6 127.3 L79.4 125.6 L75.4 123.5 L71.6 121.2 L68.1 118.6 L65.1 115.9 L62.3 112.9 L60.2 110.1 L58.5 107.1 L56.3 102.4Z" fill="#007ff0"/>
<path d="M56.4 99.9 L56.2 98.1 L56.4 96.6 L56.9 95.4 L57.7 94.1 L60.2 92.1 L64.4 90.3 L70.5 88.6 L79.6 86.7 L110.4 81.7 L141.1 79.5 L150.1 79.2 L156.1 79.3 L160.7 79.9 L163.9 81.0 L165.0 81.9 L165.9 82.9 L166.7 85.4 L166.7 88.1 L165.9 91.6 L164.3 95.6 L162.2 99.4 L159.8 102.9 L155.4 108.4 L152.3 111.6 L148.6 114.9 L144.6 118.0 L140.4 120.8 L135.9 123.2 L131.6 125.2 L126.9 127.0 L121.9 128.5 L117.4 129.6 L112.1 130.5 L108.1 130.7 L102.6 130.7 L98.1 130.3 L93.1 129.5 L88.6 128.5 L84.4 127.2 L79.9 125.4 L75.9 123.4 L72.2 121.1 L68.8 118.6 L65.7 115.9 L63.1 113.1 L61.1 110.4 L59.3 107.4 L57.2 102.6Z" fill="#0094f0"/>
<path d="M57.3 100.1 L57.2 98.4 L57.4 96.9 L57.9 95.6 L58.8 94.4 L61.4 92.4 L65.9 90.5 L72.4 88.7 L81.1 86.9 L110.4 82.0 L141.4 79.8 L149.4 79.6 L155.4 79.7 L159.9 80.4 L163.2 81.6 L164.4 82.5 L165.1 83.5 L165.7 84.6 L166.0 86.1 L165.9 88.9 L165.2 92.1 L163.7 95.9 L161.6 99.6 L159.6 102.6 L154.9 108.5 L151.9 111.6 L148.4 114.8 L144.6 117.7 L140.6 120.3 L136.4 122.7 L132.1 124.7 L127.6 126.4 L122.9 127.9 L117.9 129.1 L113.1 129.9 L109.1 130.3 L103.6 130.3 L98.9 130.0 L94.1 129.4 L89.6 128.4 L85.1 127.1 L80.9 125.4 L76.9 123.5 L73.1 121.3 L69.6 118.8 L66.6 116.1 L63.8 113.1 L61.7 110.4 L60.1 107.6 L58.1 102.9Z" fill="#00a7f0"/>
<path d="M58.4 100.6 L58.3 98.9 L58.5 97.4 L59.0 96.1 L59.9 94.9 L62.6 92.7 L66.9 90.9 L73.0 89.1 L81.6 87.3 L110.4 82.4 L140.1 80.3 L148.6 80.1 L154.6 80.3 L159.1 80.9 L162.3 82.1 L164.2 83.9 L164.8 85.1 L165.2 86.6 L165.2 89.4 L164.6 92.1 L163.2 95.6 L161.2 99.4 L158.8 102.9 L154.4 108.4 L151.3 111.6 L147.7 114.9 L144.1 117.6 L139.9 120.4 L131.9 124.4 L127.4 126.2 L122.6 127.7 L117.9 128.8 L113.1 129.6 L109.1 130.0 L103.9 130.0 L99.1 129.7 L94.4 129.0 L89.9 128.1 L85.6 126.8 L81.4 125.2 L77.5 123.4 L73.9 121.2 L70.6 118.9 L67.4 116.1 L64.8 113.4 L62.7 110.6 L61.1 107.9 L59.1 103.1Z" fill="#00bbf0"/>
<path d="M59.5 101.1 L59.4 99.4 L59.6 97.9 L60.1 96.6 L60.9 95.4 L62.1 94.2 L63.7 93.1 L67.9 91.2 L73.9 89.4 L82.1 87.6 L110.4 82.8 L139.4 80.8 L147.1 80.5 L153.1 80.7 L158.0 81.4 L161.3 82.6 L162.4 83.4 L163.4 84.5 L163.9 85.6 L164.3 87.1 L164.3 89.9 L163.6 92.9 L162.3 96.1 L160.4 99.6 L158.2 102.9 L153.8 108.4 L150.7 111.6 L147.4 114.6 L143.8 117.4 L140.0 119.9 L136.0 122.1 L131.8 124.1 L127.4 125.9 L122.6 127.3 L118.1 128.4 L113.4 129.2 L109.6 129.6 L104.4 129.7 L99.9 129.4 L95.1 128.8 L90.6 127.9 L86.4 126.7 L82.2 125.1 L78.4 123.3 L74.6 121.2 L71.4 118.9 L68.2 116.1 L65.6 113.4 L63.5 110.6 L62.1 108.1 L60.2 103.4Z" fill="#00cff0"/>
<path d="M61.1 101.6 L61.0 99.9 L61.2 98.4 L61.7 97.1 L62.5 95.9 L65.2 93.6 L69.6 91.6 L75.6 89.8 L84.0 87.9 L95.6 85.8 L110.1 83.5 L136.6 81.5 L145.4 81.2 L151.9 81.4 L156.6 82.2 L159.9 83.4 L161.1 84.3 L162.0 85.4 L162.7 86.6 L163.0 88.1 L163.0 90.6 L162.3 93.6 L161.0 96.9 L159.2 100.1 L157.1 103.1 L152.7 108.6 L149.9 111.6 L146.4 114.7 L142.9 117.4 L139.1 119.8 L135.1 122.0 L131.1 123.9 L126.9 125.5 L122.4 126.9 L117.6 128.1 L113.1 128.8 L109.4 129.2 L104.4 129.2 L99.6 128.9 L95.1 128.3 L90.6 127.3 L86.9 126.2 L82.9 124.8 L78.9 122.9 L75.4 120.9 L72.2 118.6 L69.3 116.1 L66.7 113.4 L64.8 110.9 L63.2 108.1Z" fill="#00e2f0"/>
<path d="M62.6 102.1 L62.7 99.1 L63.3 97.6 L64.1 96.4 L66.8 94.1 L70.9 92.1 L77.1 90.2 L85.6 88.2 L96.8 86.1 L110.4 84.0 L135.9 82.1 L144.4 81.9 L150.6 82.2 L155.4 83.0 L158.6 84.3 L160.6 86.1 L161.3 87.4 L161.7 88.9 L161.7 91.4 L161.1 94.1 L159.9 97.1 L158.1 100.4 L156.0 103.4 L152.1 108.4 L149.0 111.6 L145.6 114.6 L142.3 117.1 L138.6 119.5 L130.9 123.5 L122.4 126.4 L113.6 128.3 L109.6 128.7 L104.9 128.7 L100.4 128.5 L95.9 127.9 L91.6 127.0 L87.5 125.9 L83.6 124.5 L79.9 122.7 L76.2 120.6 L73.0 118.4 L70.1 115.9 L67.8 113.4 L66.1 111.1 L64.6 108.4Z" fill="#00ece6"/>
<path d="M63.8 102.6 L63.7 100.9 L63.9 99.4 L64.5 97.9 L65.4 96.7 L68.2 94.4 L72.4 92.4 L78.6 90.4 L86.4 88.5 L97.9 86.4 L110.4 84.4 L135.1 82.6 L143.4 82.4 L149.6 82.7 L154.4 83.6 L157.6 84.9 L158.8 85.9 L159.7 86.9 L160.3 88.1 L160.7 89.6 L160.7 91.9 L160.0 94.9 L158.8 97.9 L157.2 100.9 L155.1 103.9 L151.5 108.4 L148.6 111.4 L145.1 114.5 L141.6 117.1 L138.1 119.4 L134.4 121.4 L130.4 123.3 L126.1 124.9 L121.9 126.2 L113.1 128.0 L109.6 128.3 L104.6 128.4 L100.4 128.1 L95.9 127.5 L87.9 125.6 L83.9 124.1 L80.4 122.5 L77.1 120.6 L73.9 118.4 L71.3 116.1 L68.9 113.6 L67.1 111.1 L65.7 108.6 L64.9 106.6Z" fill="#00edd3"/>
<path d="M65.1 103.1 L65.1 100.1 L65.6 98.6 L66.4 97.4 L67.6 96.1 L69.1 95.0 L73.3 92.9 L79.3 90.9 L87.5 88.9 L97.7 86.9 L110.4 84.8 L123.4 83.7 L134.1 83.1 L142.4 83.0 L148.9 83.4 L153.4 84.2 L156.7 85.6 L157.9 86.5 L158.8 87.6 L159.4 88.9 L159.8 90.4 L159.7 92.9 L159.1 95.6 L157.8 98.6 L156.1 101.6 L153.0 105.9 L150.6 108.8 L147.6 111.8 L144.4 114.6 L137.6 119.2 L130.1 123.0 L121.9 125.8 L113.1 127.6 L109.6 128.0 L104.9 128.0 L96.4 127.2 L88.7 125.4 L85.1 124.1 L81.3 122.4 L78.1 120.6 L75.0 118.4 L72.3 116.1 L69.9 113.6 L68.1 111.1 L66.7 108.6 L66.0 106.6Z" fill="#00efc0"/>
<path d="M66.3 103.4 L66.2 101.9 L66.3 100.4 L66.9 98.9 L67.7 97.6 L70.3 95.4 L74.4 93.3 L79.9 91.4 L87.8 89.4 L97.9 87.3 L110.4 85.3 L123.4 84.2 L133.9 83.6 L142.1 83.5 L148.1 83.9 L152.6 84.7 L155.9 86.2 L157.1 87.1 L157.9 88.1 L158.6 89.4 L158.9 90.9 L158.9 93.1 L158.3 95.9 L157.2 98.6 L155.6 101.6 L152.7 105.6 L150.4 108.4 L147.5 111.4 L144.1 114.3 L137.4 118.9 L129.6 122.8 L121.4 125.6 L113.1 127.3 L109.9 127.6 L105.1 127.7 L100.6 127.4 L96.8 126.9 L89.1 125.0 L82.1 122.1 L78.9 120.3 L75.9 118.2 L73.1 115.9 L70.9 113.6 L69.2 111.4 L67.8 108.9 L67.1 106.9Z" fill="#00f0af"/>
<path d="M67.1 103.6 L67.0 102.1 L67.2 100.6 L67.7 99.1 L68.6 97.9 L71.1 95.6 L75.1 93.5 L80.6 91.6 L88.4 89.6 L98.3 87.6 L110.4 85.6 L123.1 84.5 L133.4 84.0 L141.4 83.9 L147.4 84.2 L151.9 85.1 L155.1 86.4 L157.2 88.4 L157.9 89.6 L158.3 91.1 L158.3 93.4 L157.8 95.9 L156.8 98.6 L155.1 101.7 L152.1 105.9 L150.1 108.3 L147.1 111.3 L143.8 114.1 L140.4 116.6 L136.9 118.9 L129.4 122.6 L121.1 125.4 L112.6 127.1 L109.6 127.4 L104.9 127.3 L96.6 126.4 L89.1 124.6 L85.4 123.1 L82.1 121.6 L79.1 119.9 L76.2 117.9 L73.6 115.6 L71.4 113.4 L69.6 110.9 L68.4 108.6 L67.8 106.9Z" fill="#00f099"/>
<path d="M68.4 106.4 L67.8 102.6 L68.3 99.9 L69.0 98.6 L70.0 97.4 L73.1 95.1 L77.5 93.1 L83.9 91.1 L92.4 89.1 L103.0 87.1 L110.6 85.9 L125.4 84.7 L136.4 84.2 L144.6 84.4 L150.1 85.1 L153.8 86.4 L155.4 87.4 L156.4 88.4 L157.1 89.5 L157.7 91.1 L157.8 93.1 L157.4 95.6 L156.4 98.4 L155.0 101.1 L153.1 103.9 L150.0 107.9 L147.4 110.6 L144.3 113.4 L138.0 117.9 L130.9 121.6 L123.1 124.5 L115.1 126.4 L108.6 127.0 L100.1 126.6 L92.4 125.1 L85.4 122.7 L79.1 119.4 L76.4 117.5 L74.0 115.4 L71.9 113.1 L70.3 110.9 L69.1 108.6Z" fill="#00f085"/>
<path d="M69.1 106.6 L68.6 102.6 L69.1 100.1 L70.8 97.6 L73.9 95.3 L78.2 93.4 L84.5 91.4 L92.9 89.4 L103.5 87.4 L110.6 86.2 L126.4 84.9 L136.6 84.5 L144.1 84.8 L149.4 85.5 L153.2 86.9 L154.6 87.8 L155.7 88.9 L156.5 90.1 L156.9 91.6 L157.0 93.6 L156.6 96.1 L155.7 98.6 L154.2 101.4 L149.4 107.9 L144.0 113.1 L137.8 117.6 L130.9 121.3 L123.3 124.1 L115.6 126.0 L109.1 126.7 L100.6 126.3 L93.1 124.9 L86.1 122.6 L79.9 119.4 L77.0 117.4 L74.7 115.4 L72.8 113.4 L71.1 111.1 L69.9 108.9Z" fill="#00f071"/>
<path d="M69.9 106.6 L69.4 102.6 L70.0 100.1 L70.7 98.9 L71.8 97.6 L75.0 95.4 L79.6 93.4 L86.1 91.4 L94.7 89.4 L105.5 87.4 L112.4 86.4 L127.1 85.2 L136.6 84.9 L143.9 85.2 L148.9 86.0 L152.6 87.4 L154.0 88.4 L155.0 89.4 L155.7 90.6 L156.1 92.1 L156.2 94.1 L155.8 96.4 L154.9 98.9 L153.5 101.6 L148.9 107.9 L146.2 110.6 L143.4 113.2 L137.1 117.6 L130.3 121.1 L122.9 123.9 L115.1 125.7 L108.6 126.3 L100.4 125.9 L93.1 124.6 L86.4 122.3 L80.3 119.1 L75.4 115.4 L73.3 113.1 L71.6 110.9 L70.5 108.6Z" fill="#00f05e"/>
<path d="M70.4 106.6 L70.0 102.9 L70.2 101.4 L70.7 100.1 L71.5 98.9 L72.7 97.6 L76.0 95.4 L80.7 93.4 L87.3 91.4 L96.1 89.4 L106.4 87.5 L113.6 86.5 L127.6 85.5 L136.6 85.3 L143.6 85.6 L148.6 86.5 L152.2 87.9 L153.4 88.7 L154.4 89.9 L155.1 91.1 L155.5 92.6 L155.6 94.6 L155.1 97.1 L154.1 99.6 L152.7 102.1 L148.1 108.2 L145.5 110.9 L142.6 113.4 L136.5 117.6 L129.6 121.1 L122.4 123.7 L114.9 125.4 L108.6 126.0 L100.5 125.6 L93.4 124.3 L86.6 122.0 L80.6 118.9 L78.1 117.1 L75.7 115.1 L73.8 113.1 L72.2 110.9 L71.0 108.6Z" fill="#00f049"/>
<path d="M71.0 106.9 L70.6 102.9 L71.3 100.4 L72.0 99.1 L73.2 97.9 L76.4 95.7 L81.1 93.6 L87.6 91.6 L95.9 89.7 L105.8 87.9 L112.6 86.9 L126.4 85.8 L135.9 85.6 L142.9 85.9 L147.9 86.8 L151.4 88.1 L152.8 89.1 L153.7 90.1 L154.5 91.4 L154.9 92.9 L155.0 94.9 L154.5 97.1 L153.6 99.6 L152.2 102.1 L147.7 108.1 L142.4 113.1 L136.4 117.4 L129.9 120.7 L122.6 123.4 L115.1 125.1 L108.9 125.8 L100.9 125.4 L93.9 124.1 L87.1 121.9 L81.2 118.9 L78.7 117.1 L76.3 115.1 L74.4 113.1 L72.9 111.1 L71.7 108.9Z" fill="#00f035"/>
<path d="M71.6 106.9 L71.2 103.1 L71.8 100.6 L72.6 99.4 L73.7 98.1 L76.9 95.9 L81.4 93.9 L87.9 91.9 L96.1 89.9 L106.1 88.1 L113.1 87.1 L126.4 86.1 L135.4 85.9 L142.4 86.2 L147.4 87.1 L150.9 88.5 L153.1 90.5 L153.8 91.6 L154.3 93.1 L154.3 95.1 L153.9 97.4 L153.0 99.9 L151.6 102.4 L147.3 108.1 L142.0 113.1 L135.9 117.3 L129.4 120.6 L122.4 123.1 L114.9 124.9 L108.6 125.5 L100.9 125.1 L93.9 123.8 L87.3 121.6 L81.5 118.6 L78.9 116.9 L76.6 114.9 L74.7 112.9 L73.3 110.9 L72.2 108.9Z" fill="#00f021"/>
<path d="M72.1 106.9 L71.9 103.1 L72.5 100.6 L73.3 99.4 L74.5 98.1 L77.6 96.0 L82.5 93.9 L88.6 92.0 L96.6 90.1 L106.4 88.3 L113.4 87.4 L126.4 86.4 L135.1 86.2 L141.9 86.6 L146.6 87.4 L150.3 88.9 L151.6 89.8 L152.6 90.9 L153.3 92.1 L153.6 93.4 L153.7 95.4 L153.3 97.6 L152.5 99.9 L151.2 102.4 L146.9 108.1 L141.8 112.9 L135.9 117.0 L129.4 120.3 L122.3 122.9 L114.9 124.6 L108.6 125.2 L100.9 124.8 L93.9 123.5 L87.5 121.4 L81.7 118.4 L77.2 114.9 L75.3 112.9 L73.8 110.9 L72.8 108.9Z" fill="#00f00d"/>
<path d="M72.8 107.1 L72.5 103.4 L73.1 100.9 L73.9 99.6 L75.0 98.4 L78.1 96.2 L82.6 94.2 L89.1 92.2 L96.9 90.4 L106.6 88.6 L113.8 87.6 L126.1 86.7 L134.6 86.6 L141.4 86.9 L146.1 87.8 L149.6 89.2 L150.9 90.1 L151.9 91.2 L152.6 92.4 L153.0 93.9 L153.0 95.9 L152.7 97.9 L151.8 100.1 L150.5 102.6 L146.3 108.1 L141.2 112.9 L135.4 116.9 L129.0 120.1 L122.1 122.6 L114.9 124.3 L108.9 124.9 L101.4 124.5 L94.6 123.3 L88.1 121.2 L82.4 118.4 L77.9 115.0 L76.1 113.1 L74.6 111.1 L73.5 109.1Z" fill="#00f000"/>
<path d="M77.8 107.4 L77.7 103.9 L78.5 101.6 L80.4 99.4 L83.3 97.4 L87.9 95.4 L93.4 93.6 L100.6 91.9 L108.6 90.5 L116.6 89.6 L125.1 89.2 L131.9 89.3 L137.4 89.8 L141.4 90.7 L144.4 92.1 L146.4 93.9 L147.0 95.1 L147.3 96.4 L147.4 98.1 L147.0 99.9 L145.2 103.6 L141.7 108.1 L137.2 112.1 L132.3 115.4 L126.7 118.1 L120.6 120.2 L114.4 121.6 L108.9 122.1 L102.4 121.8 L96.4 120.8 L90.9 119.1 L86.1 116.9 L82.0 113.9 L79.2 110.6 L78.2 108.9Z" fill="#1af100"/>
<path d="M78.3 107.4 L78.3 103.9 L79.0 101.6 L81.0 99.4 L83.9 97.5 L88.1 95.6 L94.1 93.7 L100.7 92.1 L109.0 90.6 L116.4 89.9 L124.9 89.5 L131.6 89.5 L136.9 90.1 L140.9 91.0 L143.9 92.4 L145.9 94.3 L146.8 96.6 L146.8 98.1 L146.5 99.9 L144.7 103.6 L141.4 107.9 L137.0 111.9 L132.1 115.1 L126.5 117.9 L120.6 119.9 L114.4 121.3 L108.9 121.8 L102.4 121.6 L96.6 120.6 L91.1 118.9 L86.4 116.6 L82.4 113.7 L79.6 110.6 L78.7 108.9Z" fill="#2ef200"/>
<path d="M78.8 107.4 L78.8 103.9 L79.5 101.9 L81.3 99.6 L84.3 97.6 L88.6 95.7 L94.4 93.9 L100.6 92.4 L108.8 90.9 L116.0 90.1 L124.1 89.7 L130.6 89.8 L136.1 90.3 L140.4 91.3 L143.3 92.6 L145.2 94.4 L146.1 96.6 L146.2 98.1 L145.9 99.9 L145.3 101.6 L144.2 103.6 L140.9 107.9 L136.6 111.8 L131.9 114.9 L126.4 117.6 L120.6 119.6 L114.4 121.0 L109.1 121.5 L102.6 121.3 L96.9 120.4 L91.4 118.7 L86.6 116.4 L82.8 113.6 L80.2 110.6 L79.2 108.9Z" fill="#42f300"/>
<path d="M79.3 107.4 L79.4 103.9 L80.1 101.9 L81.7 99.9 L84.5 97.9 L88.6 96.0 L94.1 94.2 L100.6 92.6 L108.7 91.1 L115.4 90.4 L123.6 90.0 L130.1 90.1 L135.6 90.6 L139.6 91.5 L142.7 92.9 L144.6 94.6 L145.5 96.9 L145.6 98.4 L145.3 100.1 L143.6 103.6 L140.4 107.9 L136.2 111.6 L131.4 114.8 L126.2 117.4 L120.4 119.4 L114.4 120.7 L109.1 121.2 L102.9 121.0 L97.2 120.1 L91.9 118.5 L87.3 116.4 L83.4 113.6 L80.7 110.6 L79.9 109.1Z" fill="#56f400"/>
<path d="M79.9 107.6 L79.7 106.4 L79.9 104.1 L80.5 102.1 L82.3 99.9 L85.1 97.9 L89.0 96.1 L94.6 94.3 L101.4 92.7 L108.5 91.4 L115.1 90.7 L123.4 90.3 L129.9 90.3 L135.1 90.9 L139.1 91.8 L142.0 93.1 L143.9 94.9 L144.9 97.1 L145.0 98.6 L144.7 100.1 L143.1 103.6 L139.8 107.9 L135.7 111.6 L131.1 114.6 L125.9 117.2 L120.2 119.1 L114.4 120.4 L109.1 120.9 L103.1 120.7 L97.6 119.9 L92.4 118.4 L87.9 116.3 L83.9 113.6 L81.2 110.6 L80.4 109.1Z" fill="#69f500"/>
<path d="M80.4 107.6 L80.3 106.4 L80.5 104.1 L81.1 102.1 L82.7 100.1 L85.5 98.1 L89.2 96.4 L94.4 94.6 L100.6 93.1 L108.4 91.6 L115.1 90.9 L122.6 90.5 L128.9 90.6 L134.1 91.1 L138.4 92.0 L141.4 93.3 L143.3 95.1 L144.3 97.4 L144.3 98.9 L144.0 100.4 L142.5 103.6 L139.4 107.8 L135.4 111.4 L130.8 114.4 L125.7 116.9 L120.1 118.8 L114.4 120.1 L109.4 120.6 L103.4 120.5 L98.4 119.7 L92.9 118.2 L88.2 116.1 L84.5 113.6 L81.7 110.6 L80.9 109.1Z" fill="#7cf400"/>
<path d="M81.0 107.6 L80.8 106.4 L81.1 104.1 L81.8 102.1 L83.4 100.1 L86.3 98.1 L90.0 96.4 L95.3 94.6 L101.5 93.1 L108.9 91.8 L116.1 91.1 L122.9 90.8 L128.9 90.9 L134.1 91.4 L138.1 92.4 L140.8 93.6 L142.7 95.4 L143.6 97.6 L143.7 99.1 L143.4 100.6 L141.8 103.9 L138.7 107.9 L134.9 111.3 L130.4 114.2 L125.1 116.8 L120.1 118.5 L114.4 119.8 L109.6 120.3 L103.4 120.2 L97.9 119.3 L92.9 117.9 L88.4 115.9 L84.8 113.4 L82.3 110.6 L81.5 109.1Z" fill="#90f300"/>
<path d="M81.6 107.6 L81.5 106.4 L81.7 104.1 L82.3 102.4 L83.9 100.4 L86.6 98.4 L90.3 96.6 L95.4 94.9 L101.5 93.4 L108.2 92.1 L114.4 91.4 L122.1 91.0 L128.4 91.1 L133.6 91.7 L137.5 92.6 L140.2 93.9 L142.1 95.6 L143.0 97.9 L143.0 99.4 L142.7 100.9 L141.2 104.1 L138.3 107.9 L134.3 111.4 L129.9 114.2 L124.9 116.6 L119.5 118.4 L114.1 119.5 L109.1 120.0 L103.4 119.9 L98.1 119.1 L93.1 117.7 L88.7 115.6 L85.1 113.1 L82.7 110.4Z" fill="#a4f300"/>
<path d="M82.1 107.6 L82.1 106.4 L82.4 104.1 L83.0 102.4 L84.6 100.4 L87.4 98.4 L91.1 96.6 L96.4 94.9 L102.5 93.4 L108.9 92.2 L115.1 91.6 L122.6 91.3 L128.6 91.4 L133.4 92.0 L137.4 93.0 L139.9 94.3 L141.6 96.0 L142.5 98.1 L142.3 100.9 L140.7 104.1 L137.8 107.9 L134.1 111.1 L129.9 113.9 L124.9 116.3 L119.5 118.1 L114.1 119.3 L109.1 119.8 L103.4 119.6 L98.4 118.9 L93.4 117.4 L89.1 115.5 L85.8 113.1 L83.3 110.4Z" fill="#b8f200"/>
<path d="M82.9 107.9 L82.8 105.9 L83.7 102.6 L85.2 100.6 L87.9 98.6 L91.5 96.9 L96.6 95.1 L102.6 93.6 L108.9 92.5 L114.6 91.9 L122.1 91.6 L127.9 91.7 L132.9 92.3 L136.6 93.2 L139.4 94.6 L141.1 96.4 L141.9 98.4 L141.6 101.1 L140.1 104.3 L137.3 107.9 L133.6 111.1 L129.2 113.9 L124.6 116.1 L119.6 117.8 L114.4 118.9 L109.6 119.4 L104.1 119.4 L98.9 118.6 L94.4 117.4 L89.9 115.4 L86.5 113.1 L84.2 110.6Z" fill="#cbf100"/>
<path d="M83.7 107.9 L83.7 105.9 L84.1 103.9 L84.6 102.6 L86.2 100.6 L88.6 98.9 L92.1 97.1 L97.1 95.4 L103.0 93.9 L109.4 92.7 L115.4 92.1 L122.1 91.9 L127.9 92.1 L132.4 92.6 L136.1 93.6 L138.7 94.9 L140.4 96.6 L141.2 98.6 L140.9 101.4 L139.5 104.4 L136.9 107.7 L133.3 110.9 L129.0 113.6 L124.4 115.8 L119.4 117.5 L114.1 118.6 L109.4 119.1 L104.1 119.0 L99.4 118.3 L94.6 117.0 L90.4 115.1 L87.1 112.9 L84.8 110.4Z" fill="#dff100"/>
<path d="M84.6 107.9 L84.5 105.9 L85.4 102.9 L86.9 100.9 L89.4 99.1 L92.9 97.3 L97.9 95.6 L103.3 94.1 L109.9 92.9 L116.2 92.4 L122.9 92.2 L128.1 92.5 L132.6 93.1 L136.0 94.1 L138.3 95.4 L139.7 96.9 L140.4 98.9 L140.2 101.4 L138.9 104.4 L136.3 107.6 L132.9 110.7 L129.1 113.1 L124.5 115.4 L119.4 117.1 L114.4 118.2 L109.9 118.7 L104.6 118.7 L99.9 118.0 L95.5 116.9 L91.4 115.1 L88.0 112.9 L85.7 110.4Z" fill="#f2f000"/>
<path d="M85.4 107.9 L85.4 105.9 L86.3 102.9 L88.0 100.9 L90.4 99.2 L94.1 97.4 L98.4 95.9 L104.0 94.4 L110.4 93.1 L116.6 92.7 L122.6 92.6 L127.6 92.8 L131.6 93.4 L135.0 94.4 L137.4 95.6 L138.9 97.1 L139.7 99.1 L139.5 101.6 L138.1 104.5 L135.7 107.6 L132.2 110.6 L128.3 113.1 L124.1 115.1 L118.8 116.9 L114.2 117.9 L109.4 118.4 L104.9 118.2 L100.1 117.6 L95.6 116.4 L91.7 114.6 L88.7 112.6 L86.6 110.4Z" fill="#ffe900"/>
<path d="M86.6 107.6 L86.6 105.9 L87.7 102.9 L89.2 101.1 L91.6 99.4 L95.4 97.6 L99.6 96.2 L104.6 94.8 L110.4 93.7 L116.4 93.3 L121.9 93.2 L126.6 93.4 L130.6 94.0 L133.9 94.9 L136.2 96.1 L137.7 97.6 L138.5 99.6 L138.2 102.1 L136.9 104.9 L134.6 107.6 L131.4 110.4 L127.6 112.7 L123.4 114.7 L118.9 116.2 L114.1 117.2 L109.7 117.6 L104.9 117.5 L100.4 116.9 L96.4 115.8 L92.6 114.2 L89.6 112.2 L87.5 109.9Z" fill="#ffd500"/>
<path d="M88.0 107.6 L88.0 105.9 L89.0 103.1 L90.5 101.4 L92.6 99.9 L96.1 98.1 L100.1 96.7 L105.1 95.4 L110.4 94.3 L116.1 93.9 L121.4 93.8 L125.9 94.1 L129.6 94.6 L132.6 95.5 L134.8 96.6 L136.4 98.1 L137.1 99.9 L137.0 102.1 L135.9 104.6 L133.7 107.4 L130.8 109.9 L127.2 112.1 L123.1 114.0 L118.9 115.4 L114.4 116.4 L110.1 116.8 L105.6 116.8 L101.4 116.3 L97.4 115.3 L93.9 113.8 L90.9 111.9 L89.0 109.9Z" fill="#ffc200"/>
<path d="M89.5 107.6 L89.5 105.9 L90.4 103.4 L92.0 101.6 L94.1 100.1 L97.1 98.6 L100.6 97.3 L105.0 96.1 L110.4 95.0 L120.4 94.5 L124.6 94.8 L128.4 95.3 L131.2 96.1 L133.4 97.2 L134.9 98.6 L135.6 100.4 L135.5 102.6 L134.5 104.9 L132.4 107.4 L129.7 109.6 L126.4 111.6 L122.6 113.4 L118.8 114.6 L114.6 115.5 L110.1 116.0 L106.1 116.0 L102.1 115.5 L98.4 114.6 L95.1 113.4 L92.3 111.6 L90.4 109.6Z" fill="#ffad00"/>
<path d="M91.0 107.4 L91.0 105.9 L91.9 103.6 L93.1 102.1 L95.2 100.6 L97.9 99.3 L101.5 97.9 L105.9 96.7 L110.4 95.7 L115.4 95.4 L120.1 95.3 L124.1 95.6 L127.6 96.1 L130.4 97.0 L132.3 98.1 L133.6 99.6 L134.1 101.1 L133.9 103.1 L133.0 105.1 L131.0 107.4 L128.5 109.4 L125.4 111.2 L121.9 112.7 L118.4 113.8 L114.1 114.7 L109.6 115.1 L106.1 115.1 L102.4 114.7 L99.1 113.9 L95.9 112.6 L93.6 111.1 L91.9 109.4Z" fill="#ff9900"/>
<path d="M92.7 107.4 L92.7 105.9 L93.6 103.7 L94.7 102.4 L96.6 101.0 L99.2 99.6 L102.6 98.4 L110.4 96.5 L114.9 96.2 L119.4 96.1 L123.4 96.4 L126.4 96.9 L128.9 97.7 L130.8 98.9 L131.9 100.1 L132.4 101.6 L132.3 103.4 L131.5 105.1 L129.7 107.1 L127.2 109.1 L124.4 110.7 L121.1 112.1 L117.8 113.1 L114.4 113.8 L109.6 114.2 L106.4 114.2 L103.1 113.8 L100.1 113.1 L97.4 112.1 L95.0 110.6 L93.5 109.1Z" fill="#ff8500"/>
<path d="M94.6 107.1 L94.7 105.9 L95.6 103.9 L96.7 102.6 L98.4 101.4 L103.4 99.1 L110.6 97.3 L118.6 97.0 L121.9 97.2 L124.9 97.7 L127.2 98.4 L129.0 99.4 L130.3 100.6 L130.8 102.1 L130.7 103.6 L130.1 105.1 L128.5 106.9 L126.2 108.6 L123.5 110.1 L120.4 111.4 L117.4 112.3 L114.1 112.9 L107.1 113.2 L104.1 113.0 L101.4 112.4 L98.7 111.4 L96.6 110.1 L95.2 108.6Z" fill="#ff7100"/>
<path d="M96.9 107.1 L97.0 105.9 L97.6 104.4 L98.6 103.1 L99.9 102.1 L101.9 101.0 L104.7 99.9 L110.6 98.3 L117.6 98.0 L120.9 98.2 L123.6 98.6 L125.9 99.4 L127.4 100.2 L128.5 101.4 L129.0 102.6 L128.9 103.9 L128.5 105.1 L127.0 106.6 L124.9 108.1 L120.1 110.4 L114.4 111.8 L107.6 112.2 L102.9 111.5 L100.4 110.6 L98.7 109.6 L97.5 108.4Z" fill="#ff5e00"/>
<path d="M99.6 106.9 L99.6 105.9 L100.4 104.4 L102.5 102.4 L106.2 100.6 L111.1 99.4 L117.1 99.1 L122.1 99.7 L124.1 100.4 L125.4 101.1 L126.3 102.1 L126.8 103.4 L126.5 105.1 L125.2 106.4 L123.4 107.7 L118.9 109.6 L114.1 110.6 L108.1 110.9 L104.3 110.4 L102.4 109.7 L101.0 108.9 L100.0 107.9Z" fill="#ff4b05"/>
<path d="M102.7 106.6 L102.8 105.6 L103.4 104.6 L105.2 102.9 L108.3 101.4 L111.6 100.5 L116.6 100.3 L120.6 100.9 L122.1 101.4 L123.4 102.2 L124.2 103.1 L124.5 104.1 L124.3 105.1 L122.1 106.7 L117.3 108.4 L112.9 109.3 L108.9 109.5 L106.1 109.1 L103.8 108.1 L103.0 107.4Z" fill="#ff3d0a"/>
<path d="M105.9 106.4 L106.2 105.4 L107.9 103.6 L109.9 102.4 L111.4 102.0 L114.9 101.9 L117.9 102.4 L119.8 103.4 L120.4 104.1 L120.6 104.9 L115.8 107.1 L111.9 108.0 L109.6 108.1 L107.8 107.9 L106.4 107.2Z" fill="#ff2711"/>
</g></g>
<path d="M176.7 78.9 L176.3 80.7 L175.9 82.4 L175.4 84.2 L174.8 86.0 L174.2 87.8 L173.5 89.5 L172.8 91.2 L172.0 93.0 L171.1 94.7 L170.2 96.4 L169.3 98.0 L168.2 99.7 L167.2 101.3 L166.1 102.9 L164.9 104.4 L163.7 106.0 L162.4 107.5 L161.1 108.9 L159.7 110.4 L158.3 111.8 L156.9 113.2 L155.4 114.5 L153.8 115.8 L152.3 117.1 L150.6 118.3 L149.0 119.5 L147.3 120.6 L145.6 121.7 L143.8 122.8 L142.1 123.8 L140.3 124.8 L138.4 125.7 L136.6 126.6 L134.7 127.4 L132.8 128.1 L130.8 128.9 L128.9 129.5 L126.9 130.2 L125.0 130.7 L123.0 131.3 L121.0 131.7 L119.0 132.1 L116.9 132.5 L114.9 132.8 L112.9 133.1 L110.8 133.3 L108.8 133.4 L106.8 133.5 L104.8 133.5 L102.7 133.5 L100.7 133.4 L98.7 133.3 L96.7 133.1 L94.8 132.9 L92.8 132.6 L90.8 132.2 L88.9 131.8 L87.0 131.4 L85.1 130.9 L83.2 130.3 L81.4 129.7 L79.6 129.1 L77.8 128.3 L76.0 127.6 L74.3 126.8 L72.6 125.9 L71.0 125.0 L69.4 124.1 L67.8 123.1 L66.2 122.0 L64.7 120.9 L63.3 119.8 L61.9 118.6 L60.5 117.4 L59.2 116.2 L57.9 114.9 L56.6 113.5 L55.5 112.2 L54.3 110.8 L53.3 109.3 L52.2 107.9 L51.3 106.4 L50.3 104.8 L49.5 103.3 L48.7 101.7 L47.9 100.1 L47.2 98.5 L46.6 96.8 L46.0 95.1" fill="none" stroke="rgba(10,10,120,0.55)" stroke-width="0.8"/></g>
</defs>
<use href="#hemi_blue" x="-2.00" y="0.20"/>
<rect x="10.2" y="22.9" width="3.2" height="132" fill="url(#cb)"/>
<rect x="10.2" y="31.22" width="2.6" height="0.9" fill="#000" opacity="0.22"/>
<rect x="10.2" y="39.99" width="2.6" height="0.9" fill="#000" opacity="0.22"/>
<rect x="10.2" y="48.76" width="2.6" height="0.9" fill="#000" opacity="0.22"/>
<rect x="10.2" y="57.53" width="2.6" height="0.9" fill="#000" opacity="0.22"/>
<rect x="10.2" y="66.30" width="2.6" height="0.9" fill="#000" opacity="0.22"/>
<rect x="10.2" y="75.07" width="2.6" height="0.9" fill="#000" opacity="0.22"/>
<rect x="10.2" y="83.84" width="2.6" height="0.9" fill="#000" opacity="0.22"/>
<rect x="10.2" y="92.61" width="2.6" height="0.9" fill="#000" opacity="0.22"/>
<rect x="10.2" y="101.38" width="2.6" height="0.9" fill="#000" opacity="0.22"/>
<rect x="10.2" y="110.15" width="2.6" height="0.9" fill="#000" opacity="0.22"/>
<rect x="10.2" y="118.92" width="2.6" height="0.9" fill="#000" opacity="0.22"/>
<rect x="10.2" y="127.69" width="2.6" height="0.9" fill="#000" opacity="0.22"/>
<rect x="10.2" y="136.46" width="2.6" height="0.9" fill="#000" opacity="0.22"/>
<rect x="10.2" y="145.23" width="2.6" height="0.9" fill="#000" opacity="0.22"/>
<use href="#hemi_red" x="180.00" y="0.00"/>
<rect x="190.7" y="22.9" width="3.2" height="132" fill="url(#cb)"/>
<rect x="190.7" y="31.22" width="2.6" height="0.9" fill="#000" opacity="0.22"/>
<rect x="190.7" y="39.99" width="2.6" height="0.9" fill="#000" opacity="0.22"/>
<rect x="190.7" y="48.76" width="2.6" height="0.9" fill="#000" opacity="0.22"/>
<rect x="190.7" y="57.53" width="2.6" height="0.9" fill="#000" opacity="0.22"/>
<rect x="190.7" y="66.30" width="2.6" height="0.9" fill="#000" opacity="0.22"/>
<rect x="190.7" y="75.07" width="2.6" height="0.9" fill="#000" opacity="0.22"/>
<rect x="190.7" y="83.84" width="2.6" height="0.9" fill="#000" opacity="0.22"/>
<rect x="190.7" y="92.61" width="2.6" height="0.9" fill="#000" opacity="0.22"/>
<rect x="190.7" y="101.38" width="2.6" height="0.9" fill="#000" opacity="0.22"/>
<rect x="190.7" y="110.15" width="2.6" height="0.9" fill="#000" opacity="0.22"/>
<rect x="190.7" y="118.92" width="2.6" height="0.9" fill="#000" opacity="0.22"/>
<rect x="190.7" y="127.69" width="2.6" height="0.9" fill="#000" opacity="0.22"/>
<rect x="190.7" y="136.46" width="2.6" height="0.9" fill="#000" opacity="0.22"/>
<rect x="190.7" y="145.23" width="2.6" height="0.9" fill="#000" opacity="0.22"/>
<use href="#hemi_red" x="359.40" y="0.40"/>
<rect x="371.2" y="22.9" width="3.2" height="132" fill="url(#cb)"/>
<rect x="371.2" y="31.22" width="2.6" height="0.9" fill="#000" opacity="0.22"/>
<rect x="371.2" y="39.99" width="2.6" height="0.9" fill="#000" opacity="0.22"/>
<rect x="371.2" y="48.76" width="2.6" height="0.9" fill="#000" opacity="0.22"/>
<rect x="371.2" y="57.53" width="2.6" height="0.9" fill="#000" opacity="0.22"/>
<rect x="371.2" y="66.30" width="2.6" height="0.9" fill="#000" opacity="0.22"/>
<rect x="371.2" y="75.07" width="2.6" height="0.9" fill="#000" opacity="0.22"/>
<rect x="371.2" y="83.84" width="2.6" height="0.9" fill="#000" opacity="0.22"/>
<rect x="371.2" y="92.61" width="2.6" height="0.9" fill="#000" opacity="0.22"/>
<rect x="371.2" y="101.38" width="2.6" height="0.9" fill="#000" opacity="0.22"/>
<rect x="371.2" y="110.15" width="2.6" height="0.9" fill="#000" opacity="0.22"/>
<rect x="371.2" y="118.92" width="2.6" height="0.9" fill="#000" opacity="0.22"/>
<rect x="371.2" y="127.69" width="2.6" height="0.9" fill="#000" opacity="0.22"/>
<rect x="371.2" y="136.46" width="2.6" height="0.9" fill="#000" opacity="0.22"/>
<rect x="371.2" y="145.23" width="2.6" height="0.9" fill="#000" opacity="0.22"/>
<use href="#hemi_red" x="-1.20" y="157.80"/>
<rect x="10.2" y="177.2" width="3.2" height="132" fill="url(#cb)"/>
<rect x="10.2" y="185.52" width="2.6" height="0.9" fill="#000" opacity="0.22"/>
<rect x="10.2" y="194.29" width="2.6" height="0.9" fill="#000" opacity="0.22"/>
<rect x="10.2" y="203.06" width="2.6" height="0.9" fill="#000" opacity="0.22"/>
<rect x="10.2" y="211.83" width="2.6" height="0.9" fill="#000" opacity="0.22"/>
<rect x="10.2" y="220.60" width="2.6" height="0.9" fill="#000" opacity="0.22"/>
<rect x="10.2" y="229.37" width="2.6" height="0.9" fill="#000" opacity="0.22"/>
<rect x="10.2" y="238.14" width="2.6" height="0.9" fill="#000" opacity="0.22"/>
<rect x="10.2" y="246.91" width="2.6" height="0.9" fill="#000" opacity="0.22"/>
<rect x="10.2" y="255.68" width="2.6" height="0.9" fill="#000" opacity="0.22"/>
<rect x="10.2" y="264.45" width="2.6" height="0.9" fill="#000" opacity="0.22"/>
<rect x="10.2" y="273.22" width="2.6" height="0.9" fill="#000" opacity="0.22"/>
<rect x="10.2" y="281.99" width="2.6" height="0.9" fill="#000" opacity="0.22"/>
<rect x="10.2" y="290.76" width="2.6" height="0.9" fill="#000" opacity="0.22"/>
<rect x="10.2" y="299.53" width="2.6" height="0.9" fill="#000" opacity="0.22"/>
<use href="#hemi_red" x="180.90" y="158.20"/>
<rect x="190.7" y="177.2" width="3.2" height="132" fill="url(#cb)"/>
<rect x="190.7" y="185.52" width="2.6" height="0.9" fill="#000" opacity="0.22"/>
<rect x="190.7" y="194.29" width="2.6" height="0.9" fill="#000" opacity="0.22"/>
<rect x="190.7" y="203.06" width="2.6" height="0.9" fill="#000" opacity="0.22"/>
<rect x="190.7" y="211.83" width="2.6" height="0.9" fill="#000" opacity="0.22"/>
<rect x="190.7" y="220.60" width="2.6" height="0.9" fill="#000" opacity="0.22"/>
<rect x="190.7" y="229.37" width="2.6" height="0.9" fill="#000" opacity="0.22"/>
<rect x="190.7" y="238.14" width="2.6" height="0.9" fill="#000" opacity="0.22"/>
<rect x="190.7" y="246.91" width="2.6" height="0.9" fill="#000" opacity="0.22"/>
<rect x="190.7" y="255.68" width="2.6" height="0.9" fill="#000" opacity="0.22"/>
<rect x="190.7" y="264.45" width="2.6" height="0.9" fill="#000" opacity="0.22"/>
<rect x="190.7" y="273.22" width="2.6" height="0.9" fill="#000" opacity="0.22"/>
<rect x="190.7" y="281.99" width="2.6" height="0.9" fill="#000" opacity="0.22"/>
<rect x="190.7" y="290.76" width="2.6" height="0.9" fill="#000" opacity="0.22"/>
<rect x="190.7" y="299.53" width="2.6" height="0.9" fill="#000" opacity="0.22"/>
<use href="#hemi_red" x="359.60" y="158.70"/>
<rect x="371.2" y="177.2" width="3.2" height="132" fill="url(#cb)"/>
<rect x="371.2" y="185.52" width="2.6" height="0.9" fill="#000" opacity="0.22"/>
<rect x="371.2" y="194.29" width="2.6" height="0.9" fill="#000" opacity="0.22"/>
<rect x="371.2" y="203.06" width="2.6" height="0.9" fill="#000" opacity="0.22"/>
<rect x="371.2" y="211.83" width="2.6" height="0.9" fill="#000" opacity="0.22"/>
<rect x="371.2" y="220.60" width="2.6" height="0.9" fill="#000" opacity="0.22"/>
<rect x="371.2" y="229.37" width="2.6" height="0.9" fill="#000" opacity="0.22"/>
<rect x="371.2" y="238.14" width="2.6" height="0.9" fill="#000" opacity="0.22"/>
<rect x="371.2" y="246.91" width="2.6" height="0.9" fill="#000" opacity="0.22"/>
<rect x="371.2" y="255.68" width="2.6" height="0.9" fill="#000" opacity="0.22"/>
<rect x="371.2" y="264.45" width="2.6" height="0.9" fill="#000" opacity="0.22"/>
<rect x="371.2" y="273.22" width="2.6" height="0.9" fill="#000" opacity="0.22"/>
<rect x="371.2" y="281.99" width="2.6" height="0.9" fill="#000" opacity="0.22"/>
<rect x="371.2" y="290.76" width="2.6" height="0.9" fill="#000" opacity="0.22"/>
<rect x="371.2" y="299.53" width="2.6" height="0.9" fill="#000" opacity="0.22"/>
<use href="#hemi_red" x="-0.30" y="312.00"/>
<rect x="10.2" y="332.9" width="3.2" height="132" fill="url(#cb)"/>
<rect x="10.2" y="341.22" width="2.6" height="0.9" fill="#000" opacity="0.22"/>
<rect x="10.2" y="349.99" width="2.6" height="0.9" fill="#000" opacity="0.22"/>
<rect x="10.2" y="358.76" width="2.6" height="0.9" fill="#000" opacity="0.22"/>
<rect x="10.2" y="367.53" width="2.6" height="0.9" fill="#000" opacity="0.22"/>
<rect x="10.2" y="376.30" width="2.6" height="0.9" fill="#000" opacity="0.22"/>
<rect x="10.2" y="385.07" width="2.6" height="0.9" fill="#000" opacity="0.22"/>
<rect x="10.2" y="393.84" width="2.6" height="0.9" fill="#000" opacity="0.22"/>
<rect x="10.2" y="402.61" width="2.6" height="0.9" fill="#000" opacity="0.22"/>
<rect x="10.2" y="411.38" width="2.6" height="0.9" fill="#000" opacity="0.22"/>
<rect x="10.2" y="420.15" width="2.6" height="0.9" fill="#000" opacity="0.22"/>
<rect x="10.2" y="428.92" width="2.6" height="0.9" fill="#000" opacity="0.22"/>
<rect x="10.2" y="437.69" width="2.6" height="0.9" fill="#000" opacity="0.22"/>
<rect x="10.2" y="446.46" width="2.6" height="0.9" fill="#000" opacity="0.22"/>
<rect x="10.2" y="455.23" width="2.6" height="0.9" fill="#000" opacity="0.22"/>
<use href="#hemi_red" x="180.00" y="313.80"/>
<rect x="190.7" y="332.9" width="3.2" height="132" fill="url(#cb)"/>
<rect x="190.7" y="341.22" width="2.6" height="0.9" fill="#000" opacity="0.22"/>
<rect x="190.7" y="349.99" width="2.6" height="0.9" fill="#000" opacity="0.22"/>
<rect x="190.7" y="358.76" width="2.6" height="0.9" fill="#000" opacity="0.22"/>
<rect x="190.7" y="367.53" width="2.6" height="0.9" fill="#000" opacity="0.22"/>
<rect x="190.7" y="376.30" width="2.6" height="0.9" fill="#000" opacity="0.22"/>
<rect x="190.7" y="385.07" width="2.6" height="0.9" fill="#000" opacity="0.22"/>
<rect x="190.7" y="393.84" width="2.6" height="0.9" fill="#000" opacity="0.22"/>
<rect x="190.7" y="402.61" width="2.6" height="0.9" fill="#000" opacity="0.22"/>
<rect x="190.7" y="411.38" width="2.6" height="0.9" fill="#000" opacity="0.22"/>
<rect x="190.7" y="420.15" width="2.6" height="0.9" fill="#000" opacity="0.22"/>
<rect x="190.7" y="428.92" width="2.6" height="0.9" fill="#000" opacity="0.22"/>
<rect x="190.7" y="437.69" width="2.6" height="0.9" fill="#000" opacity="0.22"/>
<rect x="190.7" y="446.46" width="2.6" height="0.9" fill="#000" opacity="0.22"/>
<rect x="190.7" y="455.23" width="2.6" height="0.9" fill="#000" opacity="0.22"/>
<use href="#hemi_red" x="360.00" y="313.50"/>
<rect x="371.2" y="332.9" width="3.2" height="132" fill="url(#cb)"/>
<rect x="371.2" y="341.22" width="2.6" height="0.9" fill="#000" opacity="0.22"/>
<rect x="371.2" y="349.99" width="2.6" height="0.9" fill="#000" opacity="0.22"/>
<rect x="371.2" y="358.76" width="2.6" height="0.9" fill="#000" opacity="0.22"/>
<rect x="371.2" y="367.53" width="2.6" height="0.9" fill="#000" opacity="0.22"/>
<rect x="371.2" y="376.30" width="2.6" height="0.9" fill="#000" opacity="0.22"/>
<rect x="371.2" y="385.07" width="2.6" height="0.9" fill="#000" opacity="0.22"/>
<rect x="371.2" y="393.84" width="2.6" height="0.9" fill="#000" opacity="0.22"/>
<rect x="371.2" y="402.61" width="2.6" height="0.9" fill="#000" opacity="0.22"/>
<rect x="371.2" y="411.38" width="2.6" height="0.9" fill="#000" opacity="0.22"/>
<rect x="371.2" y="420.15" width="2.6" height="0.9" fill="#000" opacity="0.22"/>
<rect x="371.2" y="428.92" width="2.6" height="0.9" fill="#000" opacity="0.22"/>
<rect x="371.2" y="437.69" width="2.6" height="0.9" fill="#000" opacity="0.22"/>
<rect x="371.2" y="446.46" width="2.6" height="0.9" fill="#000" opacity="0.22"/>
<rect x="371.2" y="455.23" width="2.6" height="0.9" fill="#000" opacity="0.22"/>
</svg>
<div class="t pc" style="left:9.8px;top:9.0px">[%]</div>
<div class="t lt" style="left:34.6px;top:6.6px">(a)</div>
<div class="t lb" style="left:13.4px;top:19.90px">2.053</div>
<div class="t lb" style="left:13.4px;top:28.67px">2.053</div>
<div class="t lb" style="left:13.4px;top:37.44px">2.052</div>
<div class="t lb" style="left:13.4px;top:46.21px">2.052</div>
<div class="t lb" style="left:13.4px;top:54.98px">2.052</div>
<div class="t lb" style="left:13.4px;top:63.75px">2.051</div>
<div class="t lb" style="left:13.4px;top:72.52px">2.051</div>
<div class="t lb" style="left:13.4px;top:81.29px">2.051</div>
<div class="t lb" style="left:13.4px;top:90.06px">2.05</div>
<div class="t lb" style="left:13.4px;top:98.83px">2.05</div>
<div class="t lb" style="left:13.4px;top:107.60px">2.05</div>
<div class="t lb" style="left:13.4px;top:116.37px">2.05</div>
<div class="t lb" style="left:13.4px;top:125.14px">2.049</div>
<div class="t lb" style="left:13.4px;top:133.91px">2.049</div>
<div class="t lb" style="left:13.4px;top:142.68px">2.049</div>
<div class="t lb" style="left:13.4px;top:151.45px">2.048</div>
<div class="t pc" style="left:190.3px;top:9.0px">[%]</div>
<div class="t lt" style="left:215.1px;top:6.6px">(b)</div>
<div class="t lb" style="left:193.9px;top:19.90px">3.194</div>
<div class="t lb" style="left:193.9px;top:28.67px">3.183</div>
<div class="t lb" style="left:193.9px;top:37.44px">3.173</div>
<div class="t lb" style="left:193.9px;top:46.21px">3.163</div>
<div class="t lb" style="left:193.9px;top:54.98px">3.153</div>
<div class="t lb" style="left:193.9px;top:63.75px">3.142</div>
<div class="t lb" style="left:193.9px;top:72.52px">3.132</div>
<div class="t lb" style="left:193.9px;top:81.29px">3.122</div>
<div class="t lb" style="left:193.9px;top:90.06px">3.111</div>
<div class="t lb" style="left:193.9px;top:98.83px">3.101</div>
<div class="t lb" style="left:193.9px;top:107.60px">3.091</div>
<div class="t lb" style="left:193.9px;top:116.37px">3.081</div>
<div class="t lb" style="left:193.9px;top:125.14px">3.07</div>
<div class="t lb" style="left:193.9px;top:133.91px">3.06</div>
<div class="t lb" style="left:193.9px;top:142.68px">3.05</div>
<div class="t lb" style="left:193.9px;top:151.45px">3.039</div>
<div class="t pc" style="left:370.8px;top:9.0px">[%]</div>
<div class="t lt" style="left:395.6px;top:6.6px">(c)</div>
<div class="t lb" style="left:374.4px;top:19.90px">4.314</div>
<div class="t lb" style="left:374.4px;top:28.67px">4.314</div>
<div class="t lb" style="left:374.4px;top:37.44px">4.313</div>
<div class="t lb" style="left:374.4px;top:46.21px">4.313</div>
<div class="t lb" style="left:374.4px;top:54.98px">4.313</div>
<div class="t lb" style="left:374.4px;top:63.75px">4.312</div>
<div class="t lb" style="left:374.4px;top:72.52px">4.312</div>
<div class="t lb" style="left:374.4px;top:81.29px">4.312</div>
<div class="t lb" style="left:374.4px;top:90.06px">4.311</div>
<div class="t lb" style="left:374.4px;top:98.83px">4.311</div>
<div class="t lb" style="left:374.4px;top:107.60px">4.311</div>
<div class="t lb" style="left:374.4px;top:116.37px">4.310</div>
<div class="t lb" style="left:374.4px;top:125.14px">4.310</div>
<div class="t lb" style="left:374.4px;top:133.91px">4.309</div>
<div class="t lb" style="left:374.4px;top:142.68px">4.309</div>
<div class="t lb" style="left:374.4px;top:151.45px">4.309</div>
<div class="t pc" style="left:9.8px;top:163.3px">[%]</div>
<div class="t lt" style="left:34.6px;top:161.7px">(d)</div>
<div class="t lb" style="left:13.4px;top:174.65px">5.407</div>
<div class="t lb" style="left:13.4px;top:183.42px">5.407</div>
<div class="t lb" style="left:13.4px;top:192.19px">5.406</div>
<div class="t lb" style="left:13.4px;top:200.96px">5.406</div>
<div class="t lb" style="left:13.4px;top:209.73px">5.405</div>
<div class="t lb" style="left:13.4px;top:218.50px">5.404</div>
<div class="t lb" style="left:13.4px;top:227.27px">5.404</div>
<div class="t lb" style="left:13.4px;top:236.04px">5.403</div>
<div class="t lb" style="left:13.4px;top:244.81px">5.403</div>
<div class="t lb" style="left:13.4px;top:253.58px">5.402</div>
<div class="t lb" style="left:13.4px;top:262.35px">5.402</div>
<div class="t lb" style="left:13.4px;top:271.12px">5.401</div>
<div class="t lb" style="left:13.4px;top:279.89px">5.4</div>
<div class="t lb" style="left:13.4px;top:288.66px">5.4</div>
<div class="t lb" style="left:13.4px;top:297.43px">5.399</div>
<div class="t lb" style="left:13.4px;top:306.20px">5.399</div>
<div class="t pc" style="left:190.3px;top:163.3px">[%]</div>
<div class="t lt" style="left:215.1px;top:161.7px">(e)</div>
<div class="t lb" style="left:193.9px;top:174.65px">6.475</div>
<div class="t lb" style="left:193.9px;top:183.42px">6.475</div>
<div class="t lb" style="left:193.9px;top:192.19px">6.474</div>
<div class="t lb" style="left:193.9px;top:200.96px">6.473</div>
<div class="t lb" style="left:193.9px;top:209.73px">6.473</div>
<div class="t lb" style="left:193.9px;top:218.50px">6.472</div>
<div class="t lb" style="left:193.9px;top:227.27px">6.471</div>
<div class="t lb" style="left:193.9px;top:236.04px">6.47</div>
<div class="t lb" style="left:193.9px;top:244.81px">6.47</div>
<div class="t lb" style="left:193.9px;top:253.58px">6.469</div>
<div class="t lb" style="left:193.9px;top:262.35px">6.468</div>
<div class="t lb" style="left:193.9px;top:271.12px">6.468</div>
<div class="t lb" style="left:193.9px;top:279.89px">6.467</div>
<div class="t lb" style="left:193.9px;top:288.66px">6.466</div>
<div class="t lb" style="left:193.9px;top:297.43px">6.466</div>
<div class="t lb" style="left:193.9px;top:306.20px">6.465</div>
<div class="t pc" style="left:370.8px;top:163.3px">[%]</div>
<div class="t lt" style="left:395.6px;top:161.7px">(f)</div>
<div class="t lb" style="left:374.4px;top:174.65px">7.0</div>
<div class="t lb" style="left:374.4px;top:183.42px">6.982</div>
<div class="t lb" style="left:374.4px;top:192.19px">6.965</div>
<div class="t lb" style="left:374.4px;top:200.96px">6.947</div>
<div class="t lb" style="left:374.4px;top:209.73px">6.930</div>
<div class="t lb" style="left:374.4px;top:218.50px">6.912</div>
<div class="t lb" style="left:374.4px;top:227.27px">6.895</div>
<div class="t lb" style="left:374.4px;top:236.04px">6.877</div>
<div class="t lb" style="left:374.4px;top:244.81px">6.859</div>
<div class="t lb" style="left:374.4px;top:253.58px">6.842</div>
<div class="t lb" style="left:374.4px;top:262.35px">6.824</div>
<div class="t lb" style="left:374.4px;top:271.12px">6.807</div>
<div class="t lb" style="left:374.4px;top:279.89px">6.789</div>
<div class="t lb" style="left:374.4px;top:288.66px">6.772</div>
<div class="t lb" style="left:374.4px;top:297.43px">6.754</div>
<div class="t lb" style="left:374.4px;top:306.20px">6.737</div>
<div class="t pc" style="left:9.8px;top:319.0px">[%]</div>
<div class="t lt" style="left:34.6px;top:316.6px">(g)</div>
<div class="t lb" style="left:13.4px;top:329.90px">7.519</div>
<div class="t lb" style="left:13.4px;top:338.67px">7.5</div>
<div class="t lb" style="left:13.4px;top:347.44px">7.481</div>
<div class="t lb" style="left:13.4px;top:356.21px">7.462</div>
<div class="t lb" style="left:13.4px;top:364.98px">7.443</div>
<div class="t lb" style="left:13.4px;top:373.75px">7.425</div>
<div class="t lb" style="left:13.4px;top:382.52px">7.406</div>
<div class="t lb" style="left:13.4px;top:391.29px">7.387</div>
<div class="t lb" style="left:13.4px;top:400.06px">7.368</div>
<div class="t lb" style="left:13.4px;top:408.83px">7.349</div>
<div class="t lb" style="left:13.4px;top:417.60px">7.33</div>
<div class="t lb" style="left:13.4px;top:426.37px">7.312</div>
<div class="t lb" style="left:13.4px;top:435.14px">7.293</div>
<div class="t lb" style="left:13.4px;top:443.91px">7.274</div>
<div class="t lb" style="left:13.4px;top:452.68px">7.255</div>
<div class="t lb" style="left:13.4px;top:461.45px">7.236</div>
<div class="t pc" style="left:190.3px;top:319.0px">[%]</div>
<div class="t lt" style="left:215.1px;top:316.6px">(h)</div>
<div class="t lb" style="left:193.9px;top:329.90px">8.032</div>
<div class="t lb" style="left:193.9px;top:338.67px">8.013</div>
<div class="t lb" style="left:193.9px;top:347.44px">7.993</div>
<div class="t lb" style="left:193.9px;top:356.21px">7.973</div>
<div class="t lb" style="left:193.9px;top:364.98px">7.954</div>
<div class="t lb" style="left:193.9px;top:373.75px">7.934</div>
<div class="t lb" style="left:193.9px;top:382.52px">7.914</div>
<div class="t lb" style="left:193.9px;top:391.29px">7.895</div>
<div class="t lb" style="left:193.9px;top:400.06px">7.875</div>
<div class="t lb" style="left:193.9px;top:408.83px">7.855</div>
<div class="t lb" style="left:193.9px;top:417.60px">7.836</div>
<div class="t lb" style="left:193.9px;top:426.37px">7.816</div>
<div class="t lb" style="left:193.9px;top:435.14px">7.796</div>
<div class="t lb" style="left:193.9px;top:443.91px">7.777</div>
<div class="t lb" style="left:193.9px;top:452.68px">7.757</div>
<div class="t lb" style="left:193.9px;top:461.45px">7.737</div>
<div class="t pc" style="left:370.8px;top:319.0px">[%]</div>
<div class="t lt" style="left:395.6px;top:316.6px">(i)</div>
<div class="t lb" style="left:374.4px;top:329.90px">8.539</div>
<div class="t lb" style="left:374.4px;top:338.67px">8.521</div>
<div class="t lb" style="left:374.4px;top:347.44px">8.504</div>
<div class="t lb" style="left:374.4px;top:356.21px">8.487</div>
<div class="t lb" style="left:374.4px;top:364.98px">8.47</div>
<div class="t lb" style="left:374.4px;top:373.75px">8.452</div>
<div class="t lb" style="left:374.4px;top:382.52px">8.435</div>
<div class="t lb" style="left:374.4px;top:391.29px">8.418</div>
<div class="t lb" style="left:374.4px;top:400.06px">8.401</div>
<div class="t lb" style="left:374.4px;top:408.83px">8.383</div>
<div class="t lb" style="left:374.4px;top:417.60px">8.366</div>
<div class="t lb" style="left:374.4px;top:426.37px">8.349</div>
<div class="t lb" style="left:374.4px;top:435.14px">8.331</div>
<div class="t lb" style="left:374.4px;top:443.91px">8.314</div>
<div class="t lb" style="left:374.4px;top:452.68px">8.297</div>
<div class="t lb" style="left:374.4px;top:461.45px">8.28</div>
</body></html>
